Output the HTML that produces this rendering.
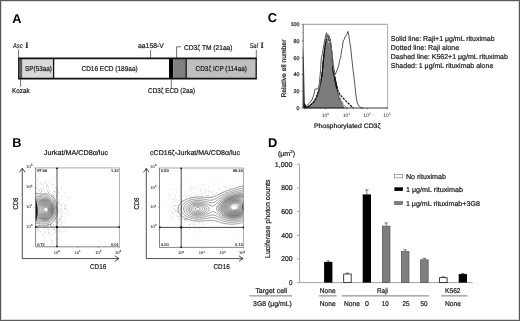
<!DOCTYPE html>
<html lang="en"><head><meta charset="utf-8"><title>Figure</title>
<style>
html,body{margin:0;padding:0;background:#fff;}
body{width:520px;height:321px;overflow:hidden;}
svg{display:block;font-family:"Liberation Sans", sans-serif;}
.b{filter:blur(0.35px);}
</style></head><body>
<svg width="520" height="321" viewBox="0 0 520 321" text-rendering="geometricPrecision">
<rect x="0" y="0" width="520" height="321" fill="#fff"/>
<g class="b">
<text x="12.3" y="22.6" font-size="12.8" font-weight="bold" fill="#000" stroke="#000" stroke-width="0" >A</text>
<text x="12.3" y="147.0" font-size="12.8" font-weight="bold" fill="#000" stroke="#000" stroke-width="0" >B</text>
<text x="267.8" y="22.4" font-size="12.8" font-weight="bold" fill="#000" stroke="#000" stroke-width="0" >C</text>
<text x="267.9" y="147.2" font-size="12.8" font-weight="bold" fill="#000" stroke="#000" stroke-width="0" >D</text>
<rect x="18.6" y="58.3" width="237.6" height="20.299999999999997" fill="#fff" stroke="none" stroke-width="0" />
<rect x="19.0" y="58.3" width="3.5" height="20.299999999999997" fill="#5e5e5e" stroke="none" stroke-width="0" />
<rect x="22.5" y="58.3" width="31" height="20.299999999999997" fill="#d9d9d9" stroke="none" stroke-width="0" />
<rect x="169" y="58.3" width="4.2" height="20.299999999999997" fill="#000" stroke="none" stroke-width="0" />
<rect x="173.2" y="58.3" width="12.3" height="20.299999999999997" fill="#808080" stroke="none" stroke-width="0" />
<rect x="186.5" y="58.3" width="69.69999999999999" height="20.299999999999997" fill="#bfbfbf" stroke="none" stroke-width="0" />
<line x1="53.6" y1="58.3" x2="53.6" y2="78.6" stroke="#111" stroke-width="1.3" />
<line x1="186.1" y1="58.3" x2="186.1" y2="78.6" stroke="#111" stroke-width="1.5" />
<line x1="18.1" y1="58.3" x2="256.84999999999997" y2="58.3" stroke="#111" stroke-width="1.7" />
<line x1="18.1" y1="78.6" x2="256.84999999999997" y2="78.6" stroke="#111" stroke-width="1.7" />
<line x1="18.6" y1="58.3" x2="18.6" y2="78.6" stroke="#111" stroke-width="1.0" />
<line x1="256.2" y1="58.3" x2="256.2" y2="78.6" stroke="#111" stroke-width="1.3" />
<line x1="18.6" y1="49.6" x2="18.6" y2="58" stroke="#333" stroke-width="0.7" />
<line x1="20.6" y1="79" x2="20.6" y2="86.8" stroke="#333" stroke-width="0.7" />
<line x1="150.6" y1="50" x2="150.6" y2="58" stroke="#333" stroke-width="0.7" />
<line x1="171.3" y1="79" x2="171.3" y2="88" stroke="#333" stroke-width="0.7" />
<polyline points="181.2,46.8 176.6,46.8 176.6,58" fill="none" stroke="#333" stroke-width="0.7"/>
<line x1="256.3" y1="50" x2="256.3" y2="58" stroke="#333" stroke-width="0.7" />
<text x="13" y="47.6" font-size="7" fill="#1c1c1c" stroke="#1c1c1c" stroke-width="0.15"><tspan font-style="italic" textLength="9.6" lengthAdjust="spacingAndGlyphs">Asc</tspan><tspan dx="2.6" font-family="'Liberation Serif', serif" font-size="8.2" font-weight="bold" font-style="normal">I</tspan></text>
<text x="249.4" y="47.6" font-size="7" fill="#1c1c1c" stroke="#1c1c1c" stroke-width="0.15"><tspan font-style="italic" textLength="8.6" lengthAdjust="spacingAndGlyphs">Sal</tspan><tspan dx="2.6" font-family="'Liberation Serif', serif" font-size="8.2" font-weight="bold" font-style="normal">I</tspan></text>
<text x="12" y="92.8" font-size="7.0" textLength="17.8" lengthAdjust="spacingAndGlyphs" fill="#1c1c1c" stroke="#1c1c1c" stroke-width="0.22" >Kozak</text>
<text x="25" y="71.3" font-size="7.0" textLength="27" lengthAdjust="spacingAndGlyphs" fill="#1c1c1c" stroke="#1c1c1c" stroke-width="0.22" >SP(53aa)</text>
<text x="81.5" y="71.3" font-size="7.0" textLength="56.2" lengthAdjust="spacingAndGlyphs" fill="#1c1c1c" stroke="#1c1c1c" stroke-width="0.22" >CD16 ECD (189aa)</text>
<text x="138" y="47.8" font-size="7.0" textLength="25.8" lengthAdjust="spacingAndGlyphs" fill="#1c1c1c" stroke="#1c1c1c" stroke-width="0.22" >aa158-V</text>
<text x="184" y="49.6" font-size="7.0" textLength="48.5" lengthAdjust="spacingAndGlyphs" fill="#1c1c1c" stroke="#1c1c1c" stroke-width="0.22" >CD3ζ TM (21aa)</text>
<text x="195.6" y="71.4" font-size="7.0" textLength="51.3" lengthAdjust="spacingAndGlyphs" fill="#1c1c1c" stroke="#1c1c1c" stroke-width="0.22" >CD3ζ ICP (114aa)</text>
<text x="148.1" y="92.8" font-size="7.0" textLength="47" lengthAdjust="spacingAndGlyphs" fill="#1c1c1c" stroke="#1c1c1c" stroke-width="0.22" >CD3ζ ECD (2aa)</text>
<clipPath id="cp1"><rect x="35.6" y="167.9" width="83.80000000000001" height="78.9"/></clipPath>
<path d="M48.3,206.7h.5M50.8,205.0h.5M46.0,224.7h.5M40.7,215.8h.5M44.4,218.0h.5M39.9,203.2h.5M48.8,233.7h.5M59.7,231.0h.5M44.1,216.7h.5M43.0,218.2h.5M52.5,184.3h.5M51.3,217.6h.5M49.2,207.2h.5M40.4,215.0h.5M48.1,218.1h.5M54.2,205.3h.5M36.9,188.5h.5M44.4,214.2h.5M32.1,200.3h.5M37.3,205.5h.5M32.6,202.0h.5M46.3,205.3h.5M37.5,180.7h.5M50.6,224.8h.5M49.6,212.8h.5M46.7,223.5h.5M26.9,234.3h.5M43.7,209.9h.5M47.9,187.1h.5M49.3,198.4h.5M35.3,194.5h.5M44.2,203.3h.5M40.0,210.6h.5M41.4,184.6h.5M57.3,213.9h.5M41.4,190.7h.5M48.0,213.3h.5M55.8,208.2h.5M43.3,205.7h.5M47.4,208.7h.5M49.2,202.9h.5M48.8,201.9h.5M37.9,188.6h.5M48.9,209.2h.5M59.8,232.7h.5M35.1,234.4h.5M55.6,226.1h.5M49.3,218.4h.5M42.8,201.1h.5M65.3,227.6h.5M54.8,208.9h.5M38.1,208.7h.5M48.9,206.0h.5M53.2,210.7h.5M46.7,204.2h.5M54.1,208.6h.5M47.7,196.0h.5M54.0,204.9h.5M60.5,238.1h.5M42.6,208.7h.5M50.0,206.6h.5M44.4,216.3h.5M49.4,218.5h.5M38.2,195.7h.5M43.4,207.0h.5M46.6,221.1h.5M55.9,213.0h.5M58.0,211.1h.5M37.1,229.0h.5M41.5,201.1h.5M53.8,210.6h.5M31.4,203.1h.5M44.4,228.2h.5M47.5,185.2h.5M59.0,201.2h.5M54.2,203.0h.5M45.5,217.9h.5M45.2,217.2h.5M46.2,227.0h.5M61.2,189.9h.5M44.7,219.0h.5M45.7,205.9h.5M51.3,201.3h.5M47.3,216.3h.5M46.6,198.1h.5M38.8,183.6h.5M48.2,205.0h.5M44.5,190.9h.5M58.2,201.5h.5M53.9,214.2h.5M48.1,213.5h.5M54.0,229.4h.5M45.4,207.1h.5M57.2,190.4h.5M48.3,200.1h.5M53.3,198.1h.5M37.3,194.4h.5M51.2,215.0h.5M34.0,201.5h.5M31.0,184.9h.5M45.7,218.3h.5M40.7,208.2h.5M49.7,214.1h.5M67.4,210.9h.5M41.2,217.5h.5M43.0,210.1h.5M50.0,225.1h.5M52.5,214.9h.5M46.8,214.5h.5M46.5,214.7h.5M54.3,191.4h.5M52.7,207.5h.5M39.5,206.4h.5M47.6,212.2h.5M48.6,192.6h.5M39.3,230.0h.5M50.5,210.9h.5M41.0,194.5h.5M56.6,188.2h.5M49.9,206.1h.5M49.1,208.5h.5M43.3,200.6h.5M47.3,210.8h.5M31.3,201.6h.5M38.7,216.5h.5M51.4,200.5h.5M30.2,209.1h.5M55.5,221.8h.5M33.5,241.7h.5M54.7,197.0h.5M41.1,203.8h.5M54.9,199.1h.5M49.4,219.4h.5M35.2,195.2h.5M58.9,203.5h.5M60.6,209.2h.5M47.7,197.4h.5M46.0,197.6h.5M46.9,203.7h.5M40.0,183.3h.5M57.6,191.5h.5M43.7,204.4h.5M47.9,211.5h.5M41.6,207.3h.5M43.0,187.4h.5M37.4,203.8h.5M59.0,219.6h.5M47.0,216.5h.5M56.5,208.6h.5M48.4,198.5h.5M42.4,217.5h.5M45.5,202.4h.5M43.5,195.0h.5M48.4,199.6h.5M45.1,227.7h.5M45.8,212.4h.5M36.6,224.1h.5M41.4,203.6h.5M62.4,221.3h.5M42.6,202.1h.5M39.3,207.6h.5M51.2,240.7h.5M60.3,219.2h.5M35.9,203.3h.5M46.5,208.5h.5M42.9,213.7h.5M33.3,224.7h.5M54.5,203.5h.5M48.1,187.8h.5M48.9,206.1h.5M41.9,209.8h.5M52.2,211.0h.5M43.7,226.1h.5M47.1,213.6h.5M38.9,219.8h.5M38.0,195.8h.5M59.7,220.4h.5M44.0,235.8h.5M50.8,219.3h.5M48.0,212.8h.5M44.6,211.5h.5M44.0,231.9h.5M53.7,198.0h.5M45.7,208.2h.5M47.0,215.4h.5M48.5,218.9h.5M58.3,204.1h.5M54.1,213.4h.5M51.6,206.1h.5M43.5,211.1h.5M36.6,207.9h.5M56.4,195.3h.5M56.5,209.3h.5M47.1,220.6h.5M52.9,197.5h.5M54.9,206.6h.5M55.4,217.9h.5M56.1,196.2h.5M44.4,211.9h.5M61.2,196.3h.5M37.7,223.8h.5M55.6,238.5h.5M52.5,234.9h.5M55.7,206.9h.5M64.3,218.9h.5M60.9,211.1h.5M38.6,210.9h.5M33.9,228.9h.5M55.2,193.1h.5M39.7,222.8h.5M48.2,209.0h.5M55.4,227.2h.5M34.3,211.9h.5M30.4,201.2h.5M50.5,213.1h.5M48.7,218.8h.5M46.2,210.0h.5M48.6,215.7h.5M41.0,203.1h.5M35.4,182.9h.5M46.9,220.9h.5M40.0,218.3h.5M34.3,211.5h.5M52.6,210.5h.5M47.8,222.6h.5M51.8,203.9h.5M39.9,200.8h.5M42.7,207.2h.5M39.8,224.5h.5M40.8,192.3h.5M50.0,224.5h.5M41.6,201.6h.5M51.3,195.8h.5M51.2,225.4h.5M65.5,208.4h.5M36.5,193.3h.5M55.8,205.1h.5M47.5,221.2h.5M48.2,224.5h.5M36.0,204.3h.5M44.4,214.7h.5M54.6,218.5h.5M47.6,201.5h.5M49.0,214.0h.5M45.8,209.2h.5M58.1,202.9h.5M48.1,203.4h.5M29.6,210.4h.5M42.4,210.0h.5M31.6,202.5h.5M20.7,204.3h.5M43.8,223.5h.5M59.6,212.3h.5M48.7,220.7h.5M38.3,224.6h.5M40.3,217.0h.5M57.9,238.0h.5M49.6,199.3h.5M48.7,219.7h.5M47.8,205.6h.5M48.6,232.8h.5M55.1,230.9h.5M53.0,185.2h.5M50.1,197.5h.5M39.4,217.9h.5M52.6,219.5h.5M42.5,218.8h.5M57.6,208.7h.5M37.5,215.3h.5M47.1,217.8h.5M48.2,208.6h.5M37.0,222.4h.5M62.9,181.4h.5M60.7,217.5h.5M44.4,196.7h.5M54.9,221.6h.5M51.5,206.7h.5M26.1,198.5h.5M50.4,214.3h.5M47.8,198.2h.5M49.0,198.2h.5M39.1,190.0h.5M46.0,209.3h.5M46.8,215.8h.5M58.4,222.4h.5M51.1,207.8h.5M48.3,222.7h.5M61.3,209.8h.5M43.6,208.4h.5M45.0,216.8h.5M32.9,222.8h.5M61.6,205.3h.5M56.5,206.6h.5M56.1,207.6h.5M54.0,210.6h.5M49.2,198.3h.5M50.1,222.5h.5M46.2,204.6h.5M46.6,215.4h.5M48.8,199.3h.5M61.2,214.1h.5M53.0,214.5h.5M47.8,204.3h.5M43.4,234.9h.5M42.9,214.2h.5M61.9,231.8h.5M52.6,221.6h.5M48.9,201.3h.5M45.4,204.8h.5M38.9,215.1h.5M47.7,210.4h.5M55.7,210.2h.5M45.0,206.0h.5M46.4,187.0h.5M46.4,206.8h.5M49.2,181.9h.5M34.8,214.2h.5M46.3,200.5h.5M41.0,200.7h.5M55.8,206.9h.5M41.7,213.0h.5M53.2,191.7h.5M61.3,187.7h.5M45.6,196.3h.5M43.2,184.1h.5M49.9,197.5h.5M48.3,229.5h.5M39.9,196.4h.5M52.2,217.7h.5M65.4,192.5h.5M46.1,213.3h.5M46.6,205.6h.5M39.4,208.9h.5M51.0,216.7h.5M37.7,231.6h.5M38.9,212.0h.5M59.2,211.2h.5M40.6,197.4h.5M57.5,216.9h.5M61.3,206.5h.5M50.5,220.0h.5M53.0,209.1h.5M64.9,231.4h.5M46.6,184.8h.5M43.3,205.9h.5M36.8,220.6h.5M48.7,205.2h.5M60.9,199.7h.5M56.5,206.3h.5M40.3,192.4h.5M41.0,211.1h.5M44.0,240.1h.5M50.8,223.9h.5M46.6,195.7h.5M50.1,198.7h.5M50.8,204.5h.5M45.8,222.2h.5M48.0,199.3h.5M50.1,201.0h.5M47.6,220.7h.5M52.6,220.4h.5M64.2,204.9h.5M53.3,195.6h.5M48.8,190.2h.5M34.0,200.9h.5M51.6,181.7h.5M31.8,219.0h.5M36.3,201.7h.5M55.6,215.6h.5M54.3,233.0h.5M47.0,224.3h.5M33.8,195.2h.5M45.1,220.5h.5M42.5,224.1h.5M53.7,200.3h.5M67.5,197.7h.5M50.1,208.2h.5M41.7,189.6h.5M38.4,228.0h.5M47.8,179.5h.5M46.8,195.8h.5M38.5,206.2h.5M49.3,206.8h.5M38.5,211.7h.5M57.8,213.0h.5M57.3,206.9h.5M57.5,223.8h.5M44.3,182.9h.5M52.7,209.6h.5M47.2,200.7h.5M45.0,211.3h.5M45.4,212.4h.5M37.3,198.2h.5M36.0,201.6h.5M55.1,219.5h.5M46.7,214.0h.5M50.1,201.1h.5M56.8,235.1h.5M33.6,238.5h.5M41.6,191.3h.5M49.8,213.4h.5M51.6,241.0h.5M45.1,219.4h.5M57.0,212.4h.5M50.1,207.0h.5M38.0,202.8h.5M40.4,206.9h.5M55.1,202.7h.5M52.2,218.9h.5M32.2,204.6h.5M59.8,204.1h.5M53.4,194.6h.5M59.7,209.0h.5M45.0,198.4h.5M45.8,207.3h.5M38.7,222.6h.5M69.9,214.2h.5M46.8,215.9h.5M61.8,214.1h.5M42.8,210.3h.5M49.7,208.0h.5M34.1,205.8h.5M45.0,219.1h.5M56.7,196.0h.5M37.7,226.4h.5M57.4,210.0h.5M51.2,200.2h.5M39.4,203.5h.5M44.0,201.1h.5M44.4,211.6h.5M47.9,200.6h.5M43.7,223.9h.5M41.3,199.8h.5M45.7,181.2h.5M39.6,200.5h.5M37.3,184.5h.5M47.9,209.1h.5M55.8,222.8h.5M35.3,217.7h.5M48.3,192.9h.5M42.8,200.1h.5M40.0,231.8h.5M55.6,213.6h.5M43.9,209.7h.5M61.0,222.8h.5M41.7,240.3h.5M51.6,225.8h.5M46.4,211.3h.5M41.9,214.0h.5M53.3,217.3h.5M47.0,201.9h.5M53.4,196.4h.5M47.9,210.3h.5M39.1,197.8h.5M47.4,208.8h.5M48.7,210.8h.5M56.4,238.9h.5M40.6,199.0h.5M48.0,208.1h.5M33.7,207.5h.5M53.8,215.1h.5M39.1,222.7h.5M32.9,203.5h.5M47.8,199.3h.5M57.7,189.1h.5M35.3,198.0h.5M39.1,216.3h.5M42.0,210.2h.5M38.7,196.9h.5M51.5,204.9h.5M41.4,210.0h.5M42.2,215.9h.5M53.3,202.2h.5M41.9,206.5h.5M52.0,186.9h.5M40.0,195.2h.5M38.0,229.8h.5M32.7,182.2h.5M64.1,205.4h.5M45.6,212.3h.5M50.4,204.9h.5M48.0,199.5h.5M49.7,208.8h.5M48.7,209.5h.5M64.5,208.6h.5M39.5,186.1h.5M35.1,207.8h.5M39.7,198.9h.5M37.0,202.8h.5M54.6,212.4h.5M55.3,217.6h.5M40.1,220.8h.5M36.5,203.4h.5M45.3,221.2h.5M60.1,224.3h.5M24.3,223.8h.5M52.8,227.0h.5M39.2,207.8h.5M57.1,207.4h.5M39.1,219.9h.5M45.9,192.5h.5M35.5,212.2h.5M40.0,203.0h.5M60.1,205.0h.5M55.3,187.8h.5M44.9,198.5h.5M40.9,209.3h.5M32.2,220.7h.5M45.0,222.0h.5M48.0,208.6h.5M47.6,207.2h.5M47.5,199.2h.5M38.8,214.6h.5M47.7,206.5h.5M48.0,217.2h.5M59.3,231.5h.5M64.2,209.2h.5M47.1,190.9h.5M41.8,198.8h.5M47.7,191.4h.5M43.1,194.6h.5M42.0,225.9h.5M47.8,212.4h.5M39.4,190.6h.5M53.5,217.8h.5M47.4,225.4h.5M50.4,205.1h.5M46.7,201.2h.5M42.1,205.4h.5M40.2,213.2h.5M46.3,217.6h.5M43.6,224.4h.5M50.3,224.8h.5M48.3,224.4h.5M36.7,226.6h.5M48.9,217.9h.5M36.9,190.5h.5M43.1,208.0h.5M45.8,213.5h.5M30.7,204.8h.5M49.1,221.0h.5M49.6,205.1h.5M47.0,198.0h.5M44.7,227.7h.5M45.1,217.9h.5M40.0,212.3h.5M46.0,221.2h.5M43.6,222.9h.5M49.1,213.9h.5M38.1,178.9h.5M50.3,201.2h.5M49.5,203.9h.5M47.1,197.3h.5M44.6,212.1h.5M53.0,224.5h.5M34.2,203.5h.5M52.2,195.4h.5M50.4,235.0h.5M50.7,204.0h.5M51.6,194.2h.5M42.7,212.6h.5M46.1,214.9h.5M53.7,200.8h.5M52.0,219.5h.5M50.1,203.5h.5M35.4,198.1h.5M52.9,211.8h.5M58.2,219.2h.5M56.9,201.7h.5M50.3,213.7h.5M35.1,208.4h.5M56.3,244.9h.5M47.0,200.7h.5M26.8,226.9h.5M51.5,208.9h.5M35.6,208.0h.5M37.3,218.6h.5M42.9,220.8h.5M59.1,225.4h.5M45.1,213.7h.5M50.6,202.1h.5M63.2,202.9h.5M61.8,216.0h.5M47.4,216.9h.5M46.2,227.1h.5M37.6,214.8h.5M42.4,222.9h.5M51.9,228.6h.5M51.7,211.7h.5M49.2,191.0h.5M56.8,194.9h.5M41.7,191.6h.5M47.8,229.5h.5M54.5,199.0h.5M53.3,225.0h.5M57.4,216.9h.5M51.7,231.0h.5M45.7,222.1h.5M51.4,208.3h.5M39.8,207.1h.5M34.4,210.7h.5M53.2,211.8h.5M47.8,203.0h.5M50.9,209.2h.5M33.9,229.7h.5M45.2,188.3h.5M43.2,212.8h.5M41.0,198.3h.5M29.1,211.9h.5M45.5,220.1h.5M55.9,208.9h.5M51.5,219.3h.5M43.2,189.7h.5M48.2,223.4h.5M54.7,202.1h.5M24.8,217.4h.5M47.2,211.9h.5M52.9,177.3h.5M54.1,200.1h.5M62.8,212.4h.5M57.9,229.0h.5M51.0,213.2h.5M50.9,212.8h.5M55.0,191.9h.5M43.7,227.5h.5M48.0,232.2h.5M56.0,210.0h.5M64.9,206.9h.5M46.9,189.4h.5M47.9,220.6h.5M50.0,243.4h.5M59.7,218.6h.5M48.0,225.4h.5M60.8,216.4h.5M40.1,197.3h.5M46.7,226.3h.5M46.6,194.2h.5M55.0,207.0h.5M57.2,213.1h.5M35.5,220.6h.5M40.5,214.8h.5M51.2,214.4h.5M42.7,200.1h.5M35.4,193.5h.5M57.1,210.4h.5M52.5,200.7h.5M52.5,193.3h.5M44.3,193.8h.5M57.0,203.5h.5M46.3,186.4h.5M57.6,192.8h.5M40.6,189.2h.5M41.0,211.9h.5M50.0,214.7h.5M42.3,234.7h.5M54.0,190.9h.5M50.5,201.1h.5M40.5,221.0h.5M48.9,206.9h.5M45.3,205.5h.5M56.1,231.0h.5M42.9,205.4h.5M44.6,195.1h.5M58.6,193.1h.5M67.3,213.8h.5M65.3,213.4h.5M48.8,192.5h.5M50.2,197.3h.5M61.3,216.3h.5M47.2,216.8h.5M40.0,201.6h.5M49.3,217.4h.5M52.1,216.7h.5M41.3,187.3h.5M34.3,205.7h.5M36.1,214.8h.5M54.0,202.4h.5M41.9,182.9h.5M47.1,206.1h.5M50.1,219.0h.5M53.6,229.4h.5M45.5,182.2h.5M52.5,242.3h.5M40.7,195.5h.5M45.2,221.6h.5M39.6,225.0h.5M57.9,221.9h.5M48.1,211.5h.5M42.0,195.1h.5M45.3,217.4h.5M46.4,200.7h.5M54.3,178.1h.5M34.7,245.0h.5M39.5,218.5h.5M45.1,232.3h.5M69.8,198.2h.5M56.4,227.9h.5M47.4,229.5h.5M54.4,229.0h.5M65.8,209.3h.5" stroke="#444" stroke-width="0.5" stroke-opacity="0.8" fill="none" clip-path="url(#cp1)"/>
<ellipse cx="45.3" cy="209.6" rx="10.5" ry="14.2" fill="#fff" fill-opacity="0.92" clip-path="url(#cp1)"/>
<ellipse cx="44.8" cy="209.6" rx="8.6" ry="11.2" fill="#dedede" clip-path="url(#cp1)"/>
<ellipse cx="46.3" cy="209.6" rx="1.6" ry="2.2" fill="#fff" clip-path="url(#cp1)"/>
<path d="M29.6,198.5 29.9,198.3 30.1,198.0 30.3,197.8 30.6,197.5 30.8,197.2 31.0,197.0 31.3,196.8 31.5,196.5 31.7,196.2 32.0,196.0 32.2,195.8 32.5,195.5 32.7,195.2 33.0,195.0 33.3,194.8 33.6,194.5 33.9,194.3 34.1,194.1 34.4,194.0 34.8,193.8 35.1,193.6 35.6,193.5 35.9,193.4 36.4,193.4 36.9,193.4 37.4,193.5 37.6,193.5 38.1,193.6 38.6,193.7 38.9,193.8 39.4,193.8 39.9,193.9 40.4,194.0 40.6,194.0 41.1,194.0 41.6,194.1 42.1,194.1 42.6,194.0 43.1,194.0 43.6,194.0 43.9,194.0 44.4,194.0 44.9,194.0 45.4,193.9 45.9,193.9 46.4,193.9 46.9,194.0 47.2,194.0 47.7,194.1 48.2,194.2 48.5,194.2 48.9,194.4 49.2,194.5 49.7,194.7 49.9,194.8 50.3,195.0 50.7,195.2 50.9,195.4 51.2,195.5 51.5,195.8 51.8,196.0 52.1,196.2 52.4,196.5 52.7,196.8 52.9,197.0 53.2,197.2 53.4,197.5 53.6,197.8 53.8,198.0 54.0,198.2 54.2,198.5 54.4,198.9 54.7,199.2 54.8,199.5 55.0,199.8 55.2,200.1 55.4,200.5 55.5,200.8 55.7,201.2 55.8,201.5 55.9,201.8 56.1,202.2 56.2,202.5 56.4,203.0 56.5,203.2 56.6,203.8 56.7,204.0 56.8,204.5 56.9,204.9 57.0,205.2 57.1,205.8 57.2,206.2 57.2,206.5 57.3,207.0 57.4,207.5 57.4,208.0 57.4,208.5 57.4,209.0 57.4,209.2 57.4,209.8 57.4,210.1 57.4,210.5 57.4,211.0 57.4,211.5 57.3,212.0 57.3,212.5 57.2,212.9 57.1,213.2 57.1,213.8 56.9,214.2 56.9,214.5 56.8,215.0 56.7,215.3 56.6,215.8 56.4,216.1 56.3,216.5 56.2,216.8 56.0,217.2 55.9,217.5 55.7,218.0 55.6,218.3 55.4,218.6 55.2,219.0 55.1,219.2 54.9,219.5 54.7,219.9 54.5,220.2 54.3,220.5 54.1,220.8 53.9,221.0 53.7,221.3 53.4,221.6 53.2,221.9 52.9,222.2 52.7,222.4 52.4,222.7 52.2,222.9 51.9,223.1 51.7,223.3 51.4,223.5 51.1,223.8 50.7,224.0 50.4,224.2 50.2,224.3 49.7,224.5 49.4,224.6 49.1,224.8 48.7,224.9 48.3,225.0 47.9,225.1 47.4,225.2 46.9,225.2 46.7,225.3 46.2,225.3 45.7,225.3 45.2,225.2 44.9,225.2 44.4,225.2 43.9,225.2 43.4,225.2 42.9,225.2 42.4,225.2 41.9,225.2 41.4,225.2 41.1,225.2 40.6,225.3 40.1,225.4 39.7,225.5 39.4,225.6 38.9,225.8 38.6,225.8 38.2,226.0 37.9,226.1 37.4,226.2 37.1,226.3 36.6,226.4 36.1,226.4 35.6,226.4 35.2,226.2 34.9,226.1 34.6,226.0 34.2,225.8 33.9,225.5 33.6,225.3 33.4,225.0 33.1,224.8 32.9,224.5 32.6,224.3 32.4,224.0 32.2,223.8 31.9,223.5 31.7,223.2 31.5,223.0 31.3,222.8 31.1,222.5 30.9,222.2 30.6,221.9 30.4,221.6 30.1,221.3 29.9,221.1 29.6,220.8 M29.6,202.0 29.9,201.7 30.1,201.3 30.4,201.0 30.6,200.8 30.8,200.5 31.0,200.2 31.2,200.0 31.4,199.7 31.6,199.5 31.9,199.2 32.1,199.0 32.4,198.7 32.6,198.5 32.9,198.2 33.1,198.0 33.4,197.8 33.7,197.5 34.0,197.2 34.4,197.0 34.6,196.9 34.9,196.8 35.4,196.5 35.6,196.5 36.1,196.3 36.6,196.2 36.9,196.2 37.4,196.2 37.9,196.2 38.4,196.2 38.9,196.2 39.3,196.2 39.6,196.3 40.1,196.3 40.6,196.3 41.1,196.3 41.4,196.2 41.9,196.2 42.4,196.2 42.9,196.2 43.4,196.1 43.9,196.1 44.4,196.1 44.9,196.0 45.4,196.0 45.9,196.0 46.4,196.0 46.9,196.0 47.4,196.1 47.9,196.2 48.2,196.3 48.7,196.4 48.9,196.5 49.4,196.7 49.7,196.9 49.9,197.0 50.3,197.3 50.7,197.5 50.9,197.7 51.2,197.9 51.4,198.1 51.7,198.3 51.9,198.5 52.2,198.8 52.4,199.1 52.7,199.4 52.9,199.7 53.2,200.0 53.3,200.2 53.5,200.5 53.7,200.8 53.9,201.2 54.1,201.5 54.2,201.8 54.4,202.2 54.6,202.5 54.7,202.8 54.9,203.2 54.9,203.5 55.1,204.0 55.2,204.2 55.3,204.7 55.4,205.1 55.5,205.5 55.6,206.0 55.7,206.3 55.8,206.8 55.8,207.2 55.9,207.8 55.9,208.2 55.9,208.5 56.0,209.0 56.0,209.5 56.0,210.0 56.0,210.5 55.9,210.9 55.9,211.2 55.9,211.8 55.8,212.2 55.7,212.8 55.7,213.0 55.6,213.5 55.5,214.0 55.4,214.2 55.3,214.8 55.2,215.0 55.0,215.5 54.9,215.8 54.7,216.2 54.6,216.5 54.4,217.0 54.3,217.2 54.2,217.5 53.9,218.0 53.8,218.2 53.6,218.5 53.4,218.8 53.2,219.2 52.9,219.5 52.7,219.8 52.5,220.0 52.3,220.2 52.1,220.5 51.8,220.8 51.6,221.0 51.3,221.2 51.0,221.5 50.7,221.7 50.4,221.9 50.2,222.1 49.8,222.2 49.4,222.5 49.2,222.6 48.7,222.8 48.4,222.9 47.9,223.0 47.7,223.1 47.2,223.1 46.7,223.2 46.2,223.2 45.7,223.2 45.2,223.2 44.6,223.2 44.1,223.1 43.6,223.1 43.1,223.1 42.6,223.0 42.1,223.0 41.6,223.0 41.1,223.0 40.6,223.0 40.1,223.0 39.6,223.1 39.1,223.1 38.6,223.2 38.1,223.2 37.9,223.3 37.4,223.3 36.9,223.3 36.4,223.3 36.1,223.2 35.6,223.1 35.2,223.0 34.9,222.8 34.6,222.7 34.3,222.5 34.0,222.2 33.6,222.0 33.4,221.8 33.1,221.5 32.9,221.3 32.6,221.0 32.4,220.8 32.2,220.5 31.9,220.2 31.7,220.0 31.5,219.8 31.3,219.5 31.1,219.2 30.9,218.9 30.6,218.6 30.4,218.3 30.1,218.0 29.9,217.8 29.8,217.5 M29.6,205.6 29.8,205.2 29.9,205.0 30.1,204.5 30.2,204.2 30.4,204.0 30.6,203.6 30.8,203.2 31.0,203.0 31.1,202.8 31.4,202.5 31.6,202.1 31.9,201.8 32.1,201.5 32.3,201.2 32.5,201.0 32.7,200.8 32.9,200.5 33.2,200.2 33.5,200.0 33.7,199.8 34.1,199.5 34.4,199.3 34.6,199.1 34.9,199.0 35.3,198.8 35.6,198.6 35.9,198.5 36.4,198.3 36.8,198.2 37.1,198.2 37.6,198.1 38.1,198.1 38.6,198.1 39.1,198.0 39.6,198.0 40.0,198.0 40.4,198.0 40.9,197.9 41.4,197.9 41.9,197.8 42.4,197.8 42.9,197.8 43.1,197.7 43.6,197.7 44.1,197.6 44.6,197.6 45.2,197.6 45.7,197.6 46.2,197.6 46.7,197.6 47.2,197.6 47.7,197.7 47.9,197.8 48.4,197.9 48.7,198.0 49.1,198.2 49.4,198.4 49.7,198.5 50.0,198.8 50.3,199.0 50.7,199.2 50.9,199.5 51.2,199.7 51.4,200.0 51.7,200.2 51.9,200.5 52.1,200.8 52.3,201.0 52.5,201.2 52.7,201.6 52.9,202.0 53.1,202.2 53.2,202.5 53.4,202.9 53.6,203.2 53.7,203.5 53.9,204.0 54.0,204.2 54.1,204.8 54.2,205.0 54.4,205.5 54.4,205.8 54.5,206.2 54.6,206.8 54.7,207.1 54.7,207.5 54.8,208.0 54.8,208.5 54.9,209.0 54.9,209.5 54.9,210.0 54.8,210.5 54.8,211.0 54.8,211.5 54.7,212.0 54.7,212.2 54.6,212.8 54.5,213.2 54.4,213.5 54.3,214.0 54.2,214.3 54.0,214.8 53.9,215.1 53.8,215.5 53.7,215.8 53.4,216.2 53.3,216.5 53.2,216.8 52.9,217.2 52.8,217.5 52.6,217.8 52.4,218.0 52.2,218.4 51.9,218.7 51.7,219.0 51.4,219.2 51.2,219.5 50.9,219.7 50.7,219.9 50.4,220.1 50.2,220.3 49.9,220.5 49.5,220.8 49.2,220.9 48.9,221.1 48.4,221.2 48.2,221.3 47.7,221.5 47.4,221.5 46.9,221.6 46.4,221.6 45.9,221.6 45.4,221.6 44.9,221.6 44.4,221.6 43.9,221.5 43.4,221.5 43.1,221.5 42.6,221.4 42.1,221.4 41.6,221.4 41.1,221.3 40.6,221.3 40.1,221.3 39.6,221.3 39.1,221.3 38.6,221.3 38.1,221.3 37.6,221.3 37.3,221.2 36.9,221.2 36.4,221.1 35.9,221.0 35.6,220.9 35.3,220.8 34.9,220.5 34.6,220.4 34.4,220.2 34.1,220.0 33.8,219.8 33.5,219.5 33.3,219.2 33.0,219.0 32.8,218.8 32.6,218.5 32.4,218.2 32.1,217.9 31.9,217.6 31.6,217.2 31.4,217.0 31.3,216.8 31.1,216.5 30.9,216.1 30.6,215.8 30.5,215.5 30.4,215.2 30.1,214.8 30.0,214.5 29.9,214.2 29.6,213.8 M42.7,199.0 43.1,199.0 43.6,198.9 44.1,198.9 44.6,198.8 45.2,198.8 45.7,198.8 46.2,198.8 46.7,198.8 47.2,198.8 47.7,198.9 47.9,199.0 48.4,199.2 48.7,199.3 49.1,199.5 49.4,199.7 49.7,199.9 49.9,200.0 50.2,200.2 50.5,200.5 50.7,200.8 51.0,201.0 51.2,201.2 51.4,201.5 51.7,201.8 51.9,202.2 52.1,202.5 52.3,202.8 52.4,203.0 52.7,203.5 52.8,203.8 52.9,204.1 53.1,204.5 53.2,204.8 53.4,205.2 53.4,205.5 53.6,206.0 53.7,206.4 53.7,206.8 53.8,207.2 53.9,207.8 53.9,208.0 54.0,208.5 54.0,209.0 54.0,209.5 54.0,210.0 54.0,210.5 54.0,211.0 53.9,211.2 53.9,211.8 53.8,212.2 53.7,212.8 53.6,213.0 53.5,213.5 53.4,213.8 53.3,214.2 53.2,214.5 53.0,215.0 52.9,215.2 52.7,215.7 52.5,216.0 52.4,216.2 52.2,216.6 51.9,217.0 51.8,217.2 51.6,217.5 51.4,217.8 51.2,218.0 50.9,218.3 50.7,218.5 50.4,218.8 50.1,219.0 49.8,219.2 49.4,219.5 49.2,219.7 48.9,219.8 48.5,220.0 48.2,220.1 47.7,220.2 47.4,220.3 46.9,220.4 46.4,220.4 45.9,220.4 45.4,220.4 44.9,220.4 44.4,220.4 43.9,220.3 43.4,220.3 43.1,220.2 42.6,220.2 42.1,220.1 41.6,220.1 41.1,220.0 40.7,220.0 40.4,220.0 39.9,219.9 39.4,219.9 38.9,219.9 38.4,219.8 37.9,219.8 37.6,219.8 37.1,219.7 36.6,219.6 36.4,219.5 35.9,219.3 35.6,219.2 35.2,219.0 34.9,218.8 34.6,218.6 34.4,218.4 34.1,218.2 33.9,217.9 33.6,217.7 33.4,217.4 33.1,217.1 32.9,216.8 32.6,216.5 32.5,216.2 32.3,216.0 32.1,215.7 31.9,215.3 31.7,215.0 31.6,214.8 31.4,214.3 31.2,214.0 31.1,213.7 30.9,213.2 30.8,213.0 30.7,212.5 30.6,212.2 30.5,211.8 30.4,211.2 30.3,211.0 30.3,210.5 30.3,210.0 30.2,209.5 30.3,209.0 30.3,208.5 30.4,208.2 30.4,207.7 30.5,207.2 30.6,207.0 30.7,206.5 30.9,206.2 31.0,205.8 31.1,205.5 31.4,205.0 31.5,204.8 31.6,204.5 31.9,204.0 32.0,203.8 32.2,203.5 32.4,203.2 32.6,202.9 32.9,202.6 33.1,202.3 33.3,202.0 33.6,201.8 33.8,201.5 34.1,201.2 34.4,201.0 34.6,200.8 34.9,200.6 35.1,200.5 35.6,200.2 35.9,200.1 36.1,200.0 36.6,199.8 36.9,199.8 37.4,199.7 37.9,199.6 38.4,199.5 38.6,199.5 39.1,199.4 39.6,199.4 40.1,199.3 40.6,199.3 40.9,199.2 41.4,199.2 41.9,199.1 42.4,199.0 42.7,199.0 M43.0,200.0 43.4,200.0 43.9,199.9 44.4,199.8 44.9,199.8 45.4,199.8 45.9,199.8 46.4,199.8 46.9,199.8 47.4,199.9 47.8,200.0 48.2,200.1 48.5,200.2 48.9,200.5 49.2,200.6 49.4,200.8 49.7,201.0 50.0,201.2 50.3,201.5 50.5,201.8 50.7,202.0 50.9,202.2 51.2,202.5 51.4,202.9 51.6,203.2 51.8,203.5 51.9,203.8 52.2,204.2 52.3,204.5 52.4,204.8 52.6,205.2 52.7,205.5 52.8,206.0 52.9,206.4 53.0,206.8 53.1,207.2 53.2,207.8 53.2,208.0 53.3,208.5 53.3,209.0 53.3,209.5 53.3,210.0 53.3,210.5 53.2,211.0 53.2,211.4 53.1,211.8 53.0,212.2 52.9,212.8 52.9,213.0 52.7,213.5 52.6,213.8 52.5,214.2 52.4,214.5 52.2,214.9 52.0,215.2 51.9,215.5 51.7,215.9 51.5,216.2 51.3,216.5 51.1,216.8 50.9,217.0 50.7,217.3 50.4,217.5 50.2,217.8 49.9,218.0 49.6,218.2 49.3,218.5 48.9,218.7 48.7,218.9 48.3,219.0 47.9,219.2 47.6,219.2 47.2,219.4 46.7,219.4 46.2,219.4 45.7,219.4 45.2,219.4 44.6,219.4 44.1,219.3 43.6,219.3 43.4,219.2 42.9,219.2 42.4,219.1 41.9,219.1 41.5,219.0 41.1,219.0 40.6,218.9 40.1,218.8 39.6,218.8 39.4,218.7 38.9,218.7 38.4,218.6 37.9,218.5 37.6,218.5 37.1,218.4 36.7,218.2 36.4,218.1 36.1,218.0 35.6,217.8 35.4,217.6 35.1,217.4 34.9,217.2 34.6,217.0 34.3,216.8 34.1,216.5 33.9,216.2 33.6,216.0 33.4,215.6 33.1,215.2 33.0,215.0 32.8,214.8 32.6,214.4 32.4,214.0 32.3,213.8 32.1,213.3 32.0,213.0 31.9,212.6 31.8,212.2 31.6,211.8 31.6,211.5 31.5,211.0 31.4,210.5 31.4,210.0 31.4,209.5 31.4,209.0 31.5,208.5 31.5,208.0 31.6,207.7 31.7,207.2 31.9,206.8 31.9,206.5 32.1,206.0 32.2,205.8 32.4,205.4 32.6,205.0 32.7,204.8 32.9,204.5 33.1,204.1 33.4,203.8 33.5,203.5 33.7,203.2 34.0,203.0 34.2,202.7 34.4,202.5 34.7,202.2 35.1,202.0 35.4,201.8 35.6,201.6 35.9,201.5 36.4,201.3 36.6,201.2 37.1,201.0 37.4,200.9 37.9,200.8 38.2,200.8 38.6,200.7 39.1,200.6 39.6,200.5 39.9,200.5 40.4,200.4 40.9,200.3 41.3,200.2 41.6,200.2 42.1,200.1 42.6,200.0 43.0,200.0 M44.4,200.8 44.9,200.7 45.4,200.7 45.9,200.7 46.4,200.7 46.9,200.7 47.2,200.8 47.7,200.9 48.0,201.0 48.4,201.2 48.7,201.3 49.0,201.5 49.3,201.8 49.6,202.0 49.9,202.2 50.2,202.5 50.4,202.8 50.6,203.0 50.8,203.2 50.9,203.5 51.2,203.9 51.4,204.2 51.5,204.5 51.7,204.8 51.9,205.2 52.0,205.5 52.1,206.0 52.2,206.2 52.3,206.8 52.4,207.2 52.5,207.5 52.6,208.0 52.6,208.5 52.6,209.0 52.7,209.5 52.7,210.0 52.6,210.5 52.6,211.0 52.5,211.5 52.4,212.0 52.4,212.2 52.3,212.8 52.2,213.0 52.0,213.5 51.9,213.8 51.7,214.2 51.6,214.5 51.4,214.9 51.2,215.2 51.1,215.5 50.9,215.8 50.7,216.1 50.4,216.4 50.2,216.7 49.9,217.0 49.7,217.2 49.4,217.4 49.2,217.6 48.9,217.8 48.5,218.0 48.2,218.1 47.9,218.3 47.4,218.4 46.9,218.5 46.7,218.5 46.2,218.5 45.7,218.5 45.2,218.5 44.9,218.5 44.4,218.5 43.9,218.4 43.4,218.3 42.9,218.3 42.6,218.2 42.1,218.2 41.6,218.1 41.2,218.0 40.9,217.9 40.4,217.9 39.9,217.8 39.6,217.7 39.1,217.6 38.6,217.5 38.4,217.5 37.9,217.4 37.4,217.2 37.1,217.2 36.7,217.0 36.4,216.9 36.1,216.7 35.8,216.5 35.4,216.2 35.1,216.0 34.9,215.8 34.6,215.5 34.4,215.2 34.2,215.0 34.0,214.8 33.8,214.5 33.6,214.1 33.4,213.8 33.3,213.5 33.1,213.1 33.0,212.8 32.9,212.4 32.7,212.0 32.6,211.5 32.6,211.2 32.5,210.8 32.4,210.2 32.4,209.8 32.4,209.2 32.5,208.8 32.5,208.2 32.6,207.8 32.7,207.5 32.8,207.0 32.9,206.8 33.1,206.2 33.2,206.0 33.4,205.7 33.6,205.2 33.7,205.0 33.9,204.8 34.1,204.4 34.4,204.1 34.6,203.8 34.9,203.6 35.1,203.3 35.4,203.1 35.6,202.9 35.9,202.8 36.4,202.5 36.6,202.4 36.9,202.2 37.4,202.1 37.6,202.0 38.1,201.9 38.6,201.8 38.9,201.7 39.4,201.6 39.8,201.5 40.1,201.4 40.6,201.3 41.1,201.2 41.4,201.2 41.9,201.1 42.4,201.0 42.6,201.0 43.1,200.9 43.6,200.8 44.1,200.8 44.4,200.8" fill="none" stroke="#222" stroke-width="0.45" clip-path="url(#cp1)"/>
<path d="M45.6,201.5 45.9,201.5 46.4,201.5 46.7,201.5 47.2,201.6 47.7,201.7 47.9,201.8 48.3,202.0 48.7,202.2 48.9,202.4 49.2,202.6 49.4,202.8 49.7,203.0 49.9,203.3 50.2,203.6 50.4,203.9 50.6,204.2 50.8,204.5 50.9,204.8 51.2,205.2 51.3,205.5 51.4,205.9 51.6,206.2 51.7,206.6 51.8,207.0 51.9,207.5 51.9,207.8 52.0,208.2 52.0,208.8 52.1,209.2 52.1,209.8 52.1,210.2 52.0,210.8 52.0,211.2 51.9,211.5 51.8,212.0 51.7,212.5 51.6,212.8 51.5,213.2 51.4,213.5 51.2,214.0 51.0,214.2 50.9,214.5 50.7,214.9 50.4,215.2 50.3,215.5 50.1,215.8 49.8,216.0 49.6,216.2 49.3,216.5 49.0,216.8 48.7,217.0 48.4,217.1 48.2,217.3 47.7,217.5 47.4,217.6 46.9,217.7 46.4,217.7 45.9,217.7 45.4,217.7 44.9,217.7 44.4,217.6 43.9,217.6 43.5,217.5 43.1,217.5 42.6,217.4 42.1,217.3 41.9,217.2 41.4,217.1 40.9,217.0 40.6,217.0 40.1,216.9 39.6,216.8 39.4,216.7 38.9,216.6 38.6,216.5 38.1,216.4 37.8,216.2 37.4,216.1 37.1,216.0 36.6,215.8 36.4,215.6 36.1,215.5 35.8,215.2 35.5,215.0 35.3,214.8 35.1,214.5 34.9,214.2 34.6,213.9 34.4,213.5 34.2,213.2 34.1,213.0 33.9,212.5 33.8,212.2 33.6,211.8 33.6,211.5 33.5,211.0 33.4,210.5 33.4,210.1 33.3,209.8 33.4,209.2 33.4,209.0 33.4,208.5 33.5,208.0 33.6,207.6 33.7,207.2 33.9,206.9 34.0,206.5 34.1,206.2 34.4,205.8 34.6,205.5 34.7,205.2 34.9,205.0 35.1,204.8 35.4,204.5 35.7,204.2 36.0,204.0 36.3,203.8 36.6,203.6 36.9,203.4 37.3,203.2 37.6,203.1 37.9,203.0 38.4,202.8 38.7,202.8 39.1,202.6 39.6,202.5 39.9,202.4 40.4,202.3 40.7,202.2 41.1,202.1 41.6,202.0 41.9,202.0 42.4,201.9 42.9,201.8 43.2,201.8 43.6,201.7 44.1,201.6 44.6,201.6 45.2,201.5 45.6,201.5 M43.6,202.5 43.9,202.4 44.4,202.4 44.9,202.3 45.4,202.3 45.9,202.3 46.4,202.3 46.9,202.3 47.4,202.4 47.7,202.5 48.2,202.8 48.4,202.9 48.7,203.1 48.9,203.3 49.2,203.5 49.4,203.8 49.7,204.0 49.9,204.3 50.2,204.7 50.4,205.0 50.5,205.2 50.7,205.6 50.8,206.0 50.9,206.2 51.1,206.8 51.2,207.0 51.3,207.5 51.4,208.0 51.4,208.2 51.5,208.8 51.5,209.2 51.5,209.8 51.5,210.2 51.5,210.8 51.4,211.0 51.3,211.5 51.2,212.0 51.2,212.3 51.0,212.8 50.9,213.0 50.7,213.5 50.6,213.8 50.4,214.1 50.2,214.5 50.0,214.8 49.8,215.0 49.6,215.2 49.4,215.5 49.1,215.8 48.8,216.0 48.5,216.2 48.2,216.4 47.9,216.6 47.4,216.8 47.2,216.8 46.7,216.9 46.2,216.9 45.7,216.9 45.2,216.9 44.6,216.8 44.1,216.8 43.9,216.8 43.4,216.7 42.9,216.6 42.5,216.5 42.1,216.4 41.6,216.3 41.4,216.2 40.9,216.1 40.4,216.0 40.1,215.9 39.6,215.8 39.4,215.7 38.9,215.6 38.6,215.5 38.1,215.3 37.9,215.2 37.4,215.0 37.1,214.8 36.9,214.7 36.6,214.5 36.3,214.2 36.0,214.0 35.8,213.8 35.6,213.5 35.4,213.2 35.1,212.8 34.9,212.5 34.8,212.2 34.6,211.7 34.5,211.5 34.4,211.0 34.4,210.7 34.3,210.2 34.3,209.8 34.3,209.2 34.3,208.8 34.4,208.5 34.5,208.0 34.6,207.6 34.7,207.2 34.9,207.0 35.1,206.5 35.3,206.2 35.4,206.0 35.6,205.8 35.9,205.5 36.1,205.2 36.4,205.0 36.7,204.8 37.1,204.5 37.4,204.3 37.6,204.2 38.1,204.0 38.4,203.9 38.7,203.8 39.1,203.6 39.5,203.5 39.9,203.4 40.3,203.2 40.6,203.2 41.1,203.0 41.4,203.0 41.9,202.8 42.3,202.8 42.6,202.7 43.1,202.6 43.6,202.5 M43.8,203.2 44.1,203.2 44.6,203.1 45.2,203.1 45.7,203.0 46.2,203.0 46.7,203.1 47.2,203.1 47.5,203.2 47.9,203.4 48.2,203.6 48.4,203.8 48.7,204.0 49.0,204.2 49.2,204.5 49.4,204.8 49.7,205.0 49.9,205.4 50.1,205.8 50.2,206.0 50.4,206.5 50.5,206.8 50.7,207.2 50.7,207.5 50.8,208.0 50.9,208.5 50.9,208.8 51.0,209.2 51.0,209.8 51.0,210.2 50.9,210.6 50.9,211.0 50.8,211.5 50.7,211.9 50.6,212.2 50.4,212.7 50.3,213.0 50.2,213.3 49.9,213.8 49.8,214.0 49.6,214.2 49.4,214.5 49.2,214.8 48.9,215.0 48.7,215.3 48.3,215.5 47.9,215.8 47.7,215.9 47.3,216.0 46.9,216.1 46.4,216.2 45.9,216.2 45.4,216.1 44.9,216.1 44.4,216.0 44.1,216.0 43.6,215.9 43.1,215.8 42.8,215.8 42.4,215.7 41.9,215.5 41.6,215.5 41.1,215.3 40.9,215.2 40.4,215.1 40.1,215.0 39.6,214.8 39.4,214.7 38.9,214.5 38.6,214.4 38.3,214.2 37.9,214.0 37.6,213.9 37.4,213.7 37.1,213.5 36.8,213.2 36.5,213.0 36.3,212.8 36.1,212.5 35.9,212.0 35.7,211.8 35.6,211.5 35.5,211.0 35.4,210.6 35.3,210.2 35.3,209.8 35.3,209.2 35.4,208.8 35.4,208.5 35.6,208.0 35.7,207.8 35.9,207.3 36.0,207.0 36.2,206.8 36.4,206.5 36.6,206.2 36.9,206.0 37.1,205.8 37.5,205.5 37.9,205.2 38.1,205.1 38.4,205.0 38.8,204.8 39.1,204.6 39.4,204.5 39.9,204.3 40.1,204.2 40.6,204.1 40.9,204.0 41.4,203.8 41.7,203.8 42.1,203.6 42.6,203.5 42.9,203.4 43.4,203.3 43.8,203.2 M44.1,204.0 44.4,203.9 44.9,203.9 45.4,203.8 45.9,203.8 46.4,203.8 46.9,203.9 47.4,204.0 47.7,204.1 47.9,204.3 48.3,204.5 48.6,204.8 48.8,205.0 49.0,205.2 49.2,205.5 49.4,205.8 49.7,206.2 49.8,206.5 49.9,206.8 50.1,207.2 50.2,207.6 50.3,208.0 50.4,208.5 50.4,209.0 50.4,209.2 50.4,209.8 50.4,210.0 50.4,210.5 50.3,211.0 50.2,211.5 50.1,211.8 50.0,212.2 49.9,212.5 49.7,213.0 49.5,213.2 49.4,213.5 49.2,213.8 48.9,214.1 48.7,214.4 48.4,214.6 48.2,214.8 47.8,215.0 47.4,215.2 47.2,215.3 46.7,215.4 46.2,215.4 45.7,215.4 45.2,215.3 44.6,215.3 44.3,215.2 43.9,215.2 43.4,215.1 43.1,215.0 42.6,214.9 42.2,214.8 41.9,214.7 41.4,214.5 41.1,214.4 40.8,214.2 40.4,214.1 40.1,214.0 39.6,213.8 39.4,213.6 39.1,213.5 38.7,213.2 38.4,213.0 38.1,212.9 37.9,212.7 37.6,212.4 37.4,212.2 37.1,211.8 36.9,211.5 36.8,211.2 36.6,210.8 36.5,210.5 36.5,210.0 36.5,209.5 36.5,209.0 36.6,208.5 36.7,208.2 36.9,207.9 37.1,207.5 37.3,207.2 37.5,207.0 37.7,206.8 38.0,206.5 38.3,206.2 38.6,206.0 38.9,205.9 39.1,205.7 39.6,205.5 39.9,205.4 40.1,205.2 40.6,205.0 40.9,204.9 41.3,204.8 41.6,204.6 42.1,204.5 42.4,204.4 42.9,204.3 43.1,204.2 43.6,204.1 44.1,204.0 M44.4,204.8 44.9,204.7 45.4,204.6 45.9,204.6 46.4,204.6 46.9,204.7 47.2,204.8 47.7,205.0 47.9,205.1 48.2,205.3 48.4,205.6 48.7,205.9 48.9,206.2 49.1,206.5 49.2,206.8 49.4,207.2 49.5,207.5 49.7,208.0 49.7,208.2 49.8,208.8 49.9,209.2 49.9,209.8 49.8,210.2 49.8,210.8 49.7,211.2 49.6,211.5 49.4,212.0 49.3,212.2 49.2,212.6 48.9,213.0 48.7,213.2 48.5,213.5 48.3,213.8 48.0,214.0 47.7,214.2 47.4,214.4 47.0,214.5 46.7,214.6 46.2,214.6 45.7,214.6 45.2,214.5 44.8,214.5 44.4,214.4 43.9,214.3 43.5,214.2 43.1,214.2 42.7,214.0 42.4,213.9 42.0,213.8 41.6,213.6 41.4,213.5 40.9,213.3 40.6,213.1 40.4,213.0 40.0,212.8 39.6,212.5 39.4,212.3 39.1,212.1 38.9,211.9 38.6,211.6 38.4,211.2 38.2,211.0 38.1,210.8 38.0,210.2 37.9,209.8 37.9,209.2 38.0,208.8 38.1,208.5 38.4,208.0 38.6,207.8 38.8,207.5 39.0,207.2 39.3,207.0 39.6,206.8 39.9,206.6 40.1,206.4 40.4,206.2 40.8,206.0 41.1,205.8 41.4,205.7 41.9,205.5 42.1,205.4 42.5,205.2 42.9,205.1 43.3,205.0 43.6,204.9 44.1,204.8 44.4,204.8 M45.3,205.5 45.7,205.5 46.2,205.4 46.7,205.5 46.9,205.5 47.4,205.7 47.7,205.9 47.9,206.1 48.2,206.4 48.4,206.7 48.6,207.0 48.7,207.2 48.9,207.6 49.0,208.0 49.2,208.5 49.2,208.8 49.2,209.2 49.3,209.8 49.2,210.2 49.2,210.6 49.1,211.0 48.9,211.5 48.8,211.7 48.7,212.1 48.4,212.5 48.2,212.8 48.0,213.0 47.7,213.2 47.4,213.5 47.2,213.6 46.7,213.7 46.4,213.8 45.9,213.8 45.7,213.7 45.2,213.7 44.6,213.6 44.1,213.5 43.9,213.4 43.4,213.3 43.1,213.2 42.7,213.0 42.4,212.9 42.1,212.7 41.7,212.5 41.4,212.3 41.1,212.1 40.9,211.9 40.6,211.7 40.4,211.4 40.1,211.1 39.9,210.8 39.8,210.5 39.6,210.1 39.6,209.8 39.6,209.2 39.7,209.0 39.9,208.5 40.0,208.2 40.2,208.0 40.4,207.8 40.7,207.5 40.9,207.2 41.3,207.0 41.6,206.8 41.9,206.6 42.1,206.5 42.6,206.2 42.9,206.1 43.2,206.0 43.6,205.8 44.0,205.8 44.4,205.6 44.9,205.5 45.3,205.5 M45.2,206.5 45.7,206.4 46.2,206.4 46.7,206.5 46.9,206.5 47.3,206.8 47.6,207.0 47.8,207.2 48.0,207.5 48.2,207.8 48.4,208.2 48.4,208.5 48.5,209.0 48.6,209.5 48.5,210.0 48.5,210.5 48.4,210.8 48.2,211.2 48.1,211.5 47.9,211.8 47.7,212.1 47.4,212.4 47.2,212.5 46.7,212.7 46.4,212.8 45.9,212.8 45.6,212.8 45.2,212.7 44.6,212.6 44.3,212.5 43.9,212.4 43.6,212.2 43.1,212.0 42.9,211.8 42.6,211.7 42.4,211.5 42.1,211.2 41.9,211.0 41.6,210.6 41.5,210.2 41.4,209.8 41.4,209.5 41.4,209.2 41.6,208.8 41.7,208.5 41.9,208.2 42.1,208.0 42.4,207.7 42.7,207.5 43.1,207.2 43.4,207.1 43.6,207.0 44.1,206.8 44.4,206.7 44.9,206.6 45.2,206.5 M45.9,207.5 46.2,207.5 46.5,207.5 46.9,207.7 47.2,207.9 47.4,208.2 47.6,208.5 47.7,208.8 47.8,209.2 47.8,209.8 47.7,210.2 47.7,210.5 47.4,211.0 47.2,211.2 47.0,211.5 46.7,211.7 46.2,211.7 45.7,211.7 45.2,211.6 44.9,211.5 44.4,211.3 44.1,211.1 43.9,211.0 43.6,210.7 43.4,210.4 43.2,210.0 43.1,209.8 43.1,209.4 43.3,209.0 43.4,208.7 43.6,208.5 43.9,208.2 44.2,208.0 44.6,207.8 44.9,207.7 45.4,207.6 45.9,207.5" fill="none" stroke="#3c3c3c" stroke-width="0.38" clip-path="url(#cp1)"/>
<path d="M35.6,196.5 C36.6,203 37.9,207 37.7,212 C37.5,217 36.4,220 35.6,223 Z" fill="#111"/>
<line x1="35.6" y1="167.9" x2="119.4" y2="167.9" stroke="#8a8a8a" stroke-width="0.7" />
<line x1="119.4" y1="167.9" x2="119.4" y2="246.8" stroke="#8a8a8a" stroke-width="0.7" />
<line x1="35.6" y1="167.9" x2="35.6" y2="246.8" stroke="#666" stroke-width="0.8" />
<line x1="35.6" y1="246.8" x2="119.4" y2="246.8" stroke="#666" stroke-width="0.8" />
<line x1="57" y1="167.9" x2="57" y2="246.8" stroke="#4a4a4a" stroke-width="1.0" />
<line x1="35.6" y1="227.1" x2="119.4" y2="227.1" stroke="#4a4a4a" stroke-width="1.0" />
<rect x="56" y="226.1" width="2" height="2" fill="#000" stroke="none" stroke-width="0" />
<rect x="56.2" y="167.6" width="1.6" height="1.4" fill="#111" stroke="none" stroke-width="0" />
<rect x="56.2" y="245.8" width="1.6" height="1.4" fill="#111" stroke="none" stroke-width="0" />
<rect x="35.300000000000004" y="226.29999999999998" width="1.4" height="1.6" fill="#111" stroke="none" stroke-width="0" />
<rect x="118.4" y="226.29999999999998" width="1.4" height="1.6" fill="#111" stroke="none" stroke-width="0" />
<text x="53.8" y="253.70000000000002" font-size="4.0" fill="#333" stroke="#333" stroke-width="0.1">10<tspan dy="-1.8" font-size="3.0">0</tspan></text>
<text x="74.6" y="253.70000000000002" font-size="4.0" fill="#333" stroke="#333" stroke-width="0.1">10<tspan dy="-1.8" font-size="3.0">1</tspan></text>
<text x="95.39999999999999" y="253.70000000000002" font-size="4.0" fill="#333" stroke="#333" stroke-width="0.1">10<tspan dy="-1.8" font-size="3.0">2</tspan></text>
<text x="115.0" y="253.70000000000002" font-size="4.0" fill="#333" stroke="#333" stroke-width="0.1">10<tspan dy="-1.8" font-size="3.0">3</tspan></text>
<text x="26.3" y="227.79999999999998" font-size="4.0" fill="#333" stroke="#333" stroke-width="0.1">10<tspan dy="-1.8" font-size="3.0">0</tspan></text>
<text x="26.3" y="208.06666666666666" font-size="4.0" fill="#333" stroke="#333" stroke-width="0.1">10<tspan dy="-1.8" font-size="3.0">1</tspan></text>
<line x1="34.4" y1="207.36666666666667" x2="35.6" y2="207.36666666666667" stroke="#666" stroke-width="0.5" />
<text x="26.3" y="188.33333333333331" font-size="4.0" fill="#333" stroke="#333" stroke-width="0.1">10<tspan dy="-1.8" font-size="3.0">2</tspan></text>
<line x1="34.4" y1="187.63333333333333" x2="35.6" y2="187.63333333333333" stroke="#666" stroke-width="0.5" />
<text x="26.3" y="168.0" font-size="4.0" fill="#333" stroke="#333" stroke-width="0.1">10<tspan dy="-1.8" font-size="3.0">3</tspan></text>
<line x1="34.4" y1="167.9" x2="35.6" y2="167.9" stroke="#666" stroke-width="0.5" />
<line x1="77.8" y1="246.8" x2="77.8" y2="248.0" stroke="#666" stroke-width="0.5" />
<line x1="98.6" y1="246.8" x2="98.6" y2="248.0" stroke="#666" stroke-width="0.5" />
<line x1="119.4" y1="246.8" x2="119.4" y2="248.0" stroke="#666" stroke-width="0.5" />
<text x="37.2" y="171.5" font-size="3.9" fill="#111" stroke="#111" stroke-width="0.12">97.94</text>
<text x="118.60000000000001" y="171.5" font-size="3.9" fill="#111" stroke="#111" stroke-width="0.12" text-anchor="end">1.32</text>
<text x="37.2" y="245.8" font-size="3.9" fill="#111" stroke="#111" stroke-width="0.12">0.72</text>
<text x="118.60000000000001" y="245.8" font-size="3.9" fill="#111" stroke="#111" stroke-width="0.12" text-anchor="end">0.01</text>
<polyline points="22.3,168.5 22.3,258.6 118.60000000000001,258.6" fill="none" stroke="#222" stroke-width="0.8"/>
<polyline points="19.5,172.3 22.3,168.20000000000002 25.1,172.3" fill="none" stroke="#222" stroke-width="0.8"/>
<polyline points="114.80000000000001,255.8 119.0,258.6 114.80000000000001,261.40000000000003" fill="none" stroke="#222" stroke-width="0.8"/>
<text x="43.8" y="155.4" font-size="7.0" textLength="64.3" lengthAdjust="spacingAndGlyphs" fill="#1c1c1c" stroke="#1c1c1c" stroke-width="0.22" >Jurkat/MA/CD8α/luc</text>
<text x="17.6" y="209.6" font-size="7.0" textLength="12" lengthAdjust="spacingAndGlyphs" transform="rotate(-90 17.6 209.6)" fill="#1c1c1c" stroke="#1c1c1c" stroke-width="0.22" >CD8</text>
<text x="90" y="269.3" font-size="7.0" textLength="16.2" lengthAdjust="spacingAndGlyphs" fill="#1c1c1c" stroke="#1c1c1c" stroke-width="0.22" >CD16</text>
<clipPath id="cp2"><rect x="159.5" y="168.0" width="84.0" height="79.4"/></clipPath>
<path d="M181.4,200.7h.5M191.6,216.3h.5M238.7,202.2h.5M189.0,224.6h.5M230.0,211.4h.5M245.1,211.3h.5M190.6,208.6h.5M224.7,206.0h.5M196.8,213.2h.5M196.3,216.3h.5M200.9,199.7h.5M182.3,213.1h.5M198.9,232.7h.5M193.7,207.0h.5M235.9,199.7h.5M205.1,201.1h.5M196.7,194.5h.5M236.2,213.9h.5M191.5,209.2h.5M237.4,205.2h.5M242.6,221.0h.5M213.5,229.2h.5M192.6,198.6h.5M183.6,218.4h.5M176.8,214.7h.5M184.8,212.6h.5M196.1,212.1h.5M198.5,207.0h.5M234.9,217.9h.5M175.8,212.1h.5M246.9,205.4h.5M205.3,216.6h.5M186.8,217.1h.5M217.8,210.5h.5M187.5,211.7h.5M178.2,225.7h.5M240.0,207.4h.5M192.8,206.8h.5M181.8,200.3h.5M178.2,205.5h.5M207.9,195.4h.5M211.8,207.9h.5M181.0,211.5h.5M229.0,185.3h.5M187.5,208.3h.5M227.1,210.4h.5M202.1,208.2h.5M210.8,197.2h.5M208.4,218.9h.5M219.7,198.5h.5M240.3,190.5h.5M221.4,193.8h.5M196.3,208.8h.5M201.6,215.9h.5M186.0,219.3h.5M195.6,210.8h.5M195.9,197.1h.5M193.7,201.9h.5M239.7,193.9h.5M243.4,202.8h.5M236.3,186.6h.5M224.2,206.0h.5M191.3,213.9h.5M185.1,205.9h.5M189.0,211.3h.5M194.9,199.0h.5M202.4,193.3h.5M223.7,198.2h.5M172.4,219.9h.5M178.3,217.8h.5M200.1,202.3h.5M205.3,216.6h.5M222.9,202.3h.5M231.5,219.0h.5M207.3,213.4h.5M193.5,204.2h.5M187.3,215.4h.5M183.5,200.6h.5M195.0,195.5h.5M241.3,188.3h.5M216.8,207.5h.5M189.6,208.5h.5M196.9,207.1h.5M233.5,200.1h.5M241.5,216.4h.5M216.9,201.8h.5M206.9,200.7h.5M185.9,219.4h.5M210.4,219.0h.5M222.2,206.6h.5M207.9,191.1h.5M197.5,202.7h.5M187.4,214.8h.5M174.2,208.8h.5M234.3,218.3h.5M211.6,192.6h.5M246.8,208.5h.5M180.6,202.9h.5M200.0,220.0h.5M224.5,203.3h.5M223.7,215.0h.5M184.2,202.7h.5M195.3,193.8h.5M213.7,194.9h.5M214.9,199.2h.5M208.0,197.1h.5M184.1,219.8h.5M246.2,215.1h.5M198.7,209.4h.5M208.5,194.9h.5M214.5,205.1h.5M173.5,202.3h.5M194.4,222.0h.5M185.6,211.9h.5M172.4,213.1h.5M178.9,204.6h.5M194.3,188.0h.5M186.1,200.4h.5M185.4,196.9h.5M236.0,207.3h.5M179.2,209.9h.5M186.5,201.2h.5M225.3,200.2h.5M209.3,221.2h.5M193.8,197.9h.5M189.9,199.3h.5M212.3,204.0h.5M188.3,201.6h.5M229.6,199.4h.5M221.1,208.8h.5M194.5,224.2h.5M184.2,192.1h.5M234.0,203.0h.5M185.2,208.3h.5M220.7,204.5h.5M254.6,201.7h.5M225.5,200.8h.5M236.7,212.9h.5M206.8,202.2h.5M210.2,202.4h.5M202.7,206.8h.5M183.9,209.1h.5M214.8,205.0h.5M191.7,217.1h.5M218.7,204.2h.5M229.2,205.3h.5M185.9,208.1h.5M180.6,199.0h.5M196.2,199.5h.5M190.3,196.8h.5M240.8,204.3h.5M247.9,195.8h.5M260.5,192.3h.5M228.1,206.9h.5M220.1,210.1h.5M200.3,191.3h.5M204.7,223.5h.5M195.2,209.3h.5M240.4,202.7h.5M189.6,218.1h.5M184.7,209.5h.5M194.2,202.0h.5M195.7,228.6h.5M223.4,194.5h.5M174.4,208.1h.5M170.4,216.3h.5M231.3,192.9h.5M215.9,202.5h.5M214.5,209.2h.5M208.6,228.9h.5M173.7,199.8h.5M240.9,202.8h.5M232.2,210.6h.5M206.1,207.2h.5M199.4,197.1h.5M203.5,212.2h.5M186.2,208.4h.5M202.4,211.9h.5M185.7,219.6h.5M201.7,216.8h.5M208.8,210.8h.5M185.0,210.9h.5M191.7,196.9h.5M186.6,206.4h.5M189.9,209.5h.5M212.3,201.8h.5M191.8,207.5h.5M177.9,200.5h.5M232.7,218.6h.5M204.7,226.9h.5M204.7,203.1h.5M204.7,208.6h.5M217.4,202.2h.5M227.9,215.5h.5M229.5,208.0h.5M212.1,205.9h.5M229.3,202.6h.5M184.6,209.8h.5M219.7,195.4h.5M189.6,214.5h.5M195.7,201.3h.5M179.7,213.8h.5M207.0,208.5h.5M185.1,219.4h.5M217.5,205.1h.5M224.1,214.2h.5M230.5,195.5h.5M192.7,214.5h.5M222.9,203.3h.5M234.9,205.5h.5M188.9,209.6h.5M187.6,217.3h.5M200.8,188.8h.5M201.5,209.9h.5M168.1,194.3h.5M218.5,217.7h.5M195.2,188.8h.5M206.0,195.8h.5M204.9,190.4h.5M211.0,220.6h.5M206.9,195.9h.5M224.5,205.9h.5M209.2,199.5h.5M226.1,187.6h.5M178.8,205.7h.5M258.0,208.9h.5M201.0,204.2h.5M171.3,216.9h.5M200.4,203.6h.5M202.6,206.5h.5M202.0,202.7h.5M170.9,211.4h.5M193.6,226.1h.5M209.7,210.9h.5M210.3,206.0h.5M210.1,201.1h.5M176.7,201.8h.5M221.0,220.8h.5M190.7,197.8h.5M179.5,200.3h.5M254.1,201.3h.5M196.0,203.8h.5M202.0,224.8h.5M201.2,185.0h.5M177.5,212.3h.5M222.2,209.8h.5M258.0,192.0h.5M183.3,202.3h.5M193.7,211.2h.5M199.0,222.9h.5M172.3,199.8h.5M205.0,190.2h.5M222.4,213.4h.5M220.3,218.8h.5M218.2,201.9h.5M190.7,188.0h.5M184.2,222.0h.5M209.6,204.5h.5M225.0,215.6h.5M187.6,206.9h.5M202.8,203.3h.5M223.9,199.3h.5M190.3,223.0h.5M194.1,221.7h.5M191.4,187.6h.5M234.9,193.2h.5M189.1,225.1h.5M175.2,205.4h.5M204.7,194.2h.5M214.5,205.4h.5M178.1,207.5h.5M239.7,202.7h.5M192.9,203.8h.5M215.0,201.9h.5M195.2,204.2h.5M233.1,206.4h.5M184.3,200.6h.5M223.3,201.9h.5M225.3,202.3h.5M185.7,220.5h.5M181.5,212.3h.5M223.6,204.8h.5M217.0,211.6h.5M200.7,210.5h.5M240.3,214.5h.5M201.4,211.6h.5M207.4,223.6h.5M211.0,219.4h.5M203.7,206.5h.5M218.6,203.3h.5M187.3,216.9h.5M181.4,212.8h.5M201.1,207.1h.5M185.7,194.1h.5M224.1,186.7h.5M158.1,212.0h.5M195.7,215.7h.5M213.2,214.0h.5M199.3,195.5h.5M197.1,218.0h.5M210.4,202.3h.5M204.1,210.2h.5M225.5,209.1h.5M237.9,194.7h.5M230.0,197.9h.5M208.6,187.3h.5M204.4,198.2h.5M187.4,190.0h.5M191.8,212.3h.5M240.7,203.1h.5M175.2,217.6h.5M190.8,211.7h.5M213.1,199.2h.5M197.5,209.1h.5M181.3,204.3h.5M255.9,208.4h.5M185.4,210.2h.5M213.3,196.4h.5M188.0,208.8h.5M241.9,203.6h.5M172.8,205.8h.5M194.6,215.8h.5M237.2,219.4h.5M248.4,199.1h.5M232.2,199.7h.5M220.8,182.4h.5M197.0,207.0h.5M190.8,204.8h.5M204.2,186.3h.5M176.9,211.6h.5M246.6,208.0h.5M182.0,202.0h.5M200.4,204.2h.5M176.4,199.2h.5M182.1,216.2h.5M202.9,192.1h.5M173.0,205.9h.5M239.2,221.6h.5M218.9,205.5h.5M192.4,211.9h.5M235.3,202.2h.5M215.9,192.9h.5M192.9,207.4h.5M236.1,207.4h.5M242.5,193.0h.5M222.4,208.8h.5M184.6,219.4h.5M224.6,213.2h.5M243.5,187.6h.5M198.4,198.3h.5M200.7,193.5h.5M239.6,213.5h.5M209.3,211.0h.5M195.2,214.9h.5M202.0,197.7h.5M179.7,196.7h.5M261.3,203.6h.5M197.0,208.6h.5M192.8,200.3h.5M186.4,210.3h.5M209.6,213.7h.5M248.4,204.3h.5M198.1,198.4h.5M192.7,186.8h.5M232.4,199.8h.5M193.2,210.6h.5M204.1,205.4h.5M234.5,199.7h.5M184.9,202.2h.5M241.4,209.5h.5M225.5,203.2h.5M197.6,209.8h.5M216.7,196.6h.5M212.6,200.2h.5M222.3,206.5h.5M201.1,198.3h.5M201.0,195.4h.5M195.1,205.0h.5M181.5,219.3h.5M190.2,210.3h.5M256.4,216.8h.5M231.8,201.9h.5M194.2,204.5h.5M226.7,191.7h.5M211.8,201.1h.5M196.1,221.6h.5M180.9,210.7h.5M247.8,209.3h.5M184.1,214.3h.5M203.0,205.8h.5M246.3,200.6h.5M189.2,209.0h.5M235.9,210.3h.5M210.3,213.1h.5M229.1,209.3h.5M235.0,205.4h.5M224.0,196.3h.5M239.1,199.8h.5M211.5,195.9h.5M240.2,211.8h.5M181.4,188.0h.5M200.3,204.3h.5M185.8,231.0h.5M174.1,205.6h.5M188.1,196.2h.5M209.7,204.6h.5M230.2,216.4h.5M181.7,207.5h.5M250.1,208.4h.5M198.0,209.1h.5M188.5,204.4h.5M236.8,233.6h.5M224.6,203.8h.5M242.1,199.5h.5M203.8,203.0h.5M200.0,210.4h.5M221.4,207.6h.5M198.3,214.8h.5M212.8,205.3h.5M220.0,190.6h.5M208.5,211.8h.5M237.7,200.1h.5M192.6,204.6h.5M231.9,190.4h.5M205.9,200.0h.5M196.0,200.8h.5M202.4,205.9h.5M204.9,191.9h.5M210.9,206.7h.5M175.0,209.9h.5M262.3,191.5h.5M238.8,196.4h.5M198.4,200.8h.5M232.3,211.2h.5M211.7,182.3h.5M173.7,205.4h.5M218.7,188.0h.5M201.2,202.9h.5M226.5,212.8h.5M219.8,197.7h.5M217.1,207.6h.5M175.0,200.9h.5M231.3,222.2h.5M222.4,213.6h.5M243.4,213.6h.5M175.0,195.4h.5M240.7,193.7h.5M239.6,213.5h.5M191.3,205.7h.5M189.6,204.7h.5M179.3,210.8h.5M169.5,197.1h.5M193.0,215.6h.5M190.7,207.8h.5M173.7,213.3h.5M220.7,197.9h.5M212.7,211.9h.5M206.5,199.3h.5M186.1,217.0h.5M206.8,218.2h.5M228.1,213.1h.5M202.6,211.7h.5M206.2,211.8h.5M185.9,181.4h.5M198.5,214.0h.5M233.0,200.4h.5M188.3,208.9h.5M208.7,203.7h.5M223.3,191.8h.5M184.6,203.7h.5M245.1,208.7h.5M195.7,220.0h.5M170.7,202.2h.5M220.3,195.8h.5M221.5,217.6h.5M208.5,197.1h.5M236.5,222.6h.5M172.2,209.3h.5M196.9,197.9h.5M222.4,213.9h.5M239.9,218.9h.5M209.3,191.8h.5M216.1,220.5h.5M195.1,204.6h.5M200.9,220.1h.5M208.6,202.5h.5M253.8,188.0h.5M224.9,208.5h.5M232.7,213.4h.5M251.3,222.7h.5M194.9,225.3h.5M218.6,210.9h.5M219.0,204.5h.5M225.0,199.5h.5M189.5,205.1h.5M200.1,198.9h.5M235.5,201.2h.5M181.9,184.8h.5M189.9,209.6h.5M214.4,206.3h.5M226.7,227.9h.5M181.4,215.2h.5M237.0,199.2h.5M195.0,213.5h.5M201.3,196.2h.5M199.1,200.4h.5M225.1,187.6h.5M239.6,216.9h.5M250.4,208.9h.5M178.6,197.0h.5M225.3,203.9h.5M212.0,214.5h.5M183.3,212.0h.5M220.0,207.8h.5M246.7,194.9h.5M198.9,200.6h.5M232.7,203.8h.5M191.4,217.4h.5M193.9,200.7h.5M233.5,193.7h.5M185.4,218.7h.5M210.1,197.0h.5M212.9,216.8h.5M179.1,210.9h.5M217.9,212.8h.5M230.2,221.1h.5M197.9,215.2h.5M179.9,215.4h.5M206.2,195.3h.5M226.2,196.3h.5M226.0,209.4h.5M203.3,221.1h.5M200.9,220.7h.5M199.4,228.9h.5M179.9,211.4h.5M205.4,208.5h.5M180.1,217.8h.5M184.9,208.7h.5M191.0,206.8h.5M204.8,198.9h.5M209.2,216.2h.5M212.2,194.8h.5M207.2,210.2h.5M240.8,188.8h.5M222.0,213.6h.5M208.1,195.7h.5M230.9,211.1h.5M208.1,191.8h.5M224.5,199.8h.5M184.3,219.1h.5M194.8,198.7h.5M235.0,202.8h.5M211.0,201.2h.5M203.0,184.5h.5M236.7,207.0h.5M187.2,211.9h.5M240.0,193.2h.5M183.4,214.4h.5M188.6,200.6h.5M168.9,198.9h.5M178.7,208.2h.5M248.0,196.1h.5M193.1,230.8h.5M193.5,193.1h.5M216.2,213.0h.5M216.4,214.3h.5M222.8,185.4h.5M191.0,190.9h.5M196.1,213.6h.5M235.9,198.9h.5M181.8,212.3h.5M179.3,219.7h.5M193.1,204.7h.5M206.6,196.5h.5M234.3,176.7h.5M236.7,206.6h.5M211.1,197.2h.5M205.9,209.3h.5M231.7,207.2h.5M222.4,192.4h.5M193.1,224.0h.5M187.4,219.1h.5M177.8,216.4h.5M221.3,192.9h.5M195.1,201.6h.5M238.3,198.8h.5M165.5,205.0h.5M243.2,192.3h.5M189.5,211.5h.5M231.5,204.9h.5M209.6,209.3h.5M210.0,201.4h.5M235.0,216.1h.5M228.7,207.3h.5M220.6,179.1h.5M192.6,202.5h.5M206.9,205.2h.5M201.1,216.7h.5M183.7,206.0h.5M180.3,206.3h.5M202.1,200.4h.5M189.3,214.4h.5M226.8,200.1h.5M187.2,203.0h.5M176.8,201.9h.5M240.4,207.3h.5M198.9,202.7h.5M190.6,190.5h.5M182.1,214.2h.5M200.5,201.7h.5M174.8,210.6h.5M221.4,207.6h.5M187.4,220.4h.5M217.5,213.6h.5M268.1,196.6h.5M186.6,204.5h.5M207.5,195.2h.5M201.7,224.1h.5M194.0,212.6h.5M191.3,221.0h.5M235.9,200.5h.5M173.4,189.5h.5M233.9,218.7h.5M207.5,206.1h.5M178.8,210.2h.5M190.7,209.4h.5M213.1,210.7h.5M214.4,210.2h.5M194.0,192.7h.5M222.4,213.7h.5M197.3,203.3h.5M202.3,202.6h.5M170.7,225.1h.5M214.8,214.1h.5M176.1,205.6h.5M180.4,190.8h.5M225.9,205.8h.5M198.3,211.6h.5M224.7,204.5h.5M216.5,192.8h.5M220.5,198.2h.5M186.4,196.5h.5M226.8,207.0h.5M179.0,216.5h.5M186.0,217.8h.5M191.0,199.9h.5M188.5,211.0h.5M191.2,214.0h.5M233.8,200.5h.5M234.2,203.1h.5M198.0,227.6h.5M195.3,209.2h.5M190.5,216.7h.5M205.6,202.2h.5M222.6,206.3h.5M248.6,186.4h.5M174.4,208.7h.5M232.3,214.3h.5M257.7,222.0h.5M197.1,218.9h.5M219.8,211.2h.5M240.5,204.3h.5M212.4,199.6h.5M188.9,206.4h.5M209.5,211.4h.5M218.5,195.8h.5M190.7,217.6h.5M192.7,197.3h.5M176.4,192.1h.5M225.9,193.9h.5M232.5,188.4h.5M181.1,195.9h.5M223.6,215.2h.5M204.7,203.1h.5M183.2,210.8h.5M193.6,217.3h.5M221.4,217.0h.5M196.9,202.8h.5M204.5,219.1h.5M262.0,205.9h.5M218.9,205.5h.5M209.5,210.7h.5M183.3,195.3h.5M182.1,201.2h.5M241.0,202.5h.5M232.6,210.3h.5M220.3,200.1h.5M219.0,204.7h.5M214.2,215.1h.5M214.7,219.7h.5M226.6,211.9h.5M182.9,219.7h.5M194.1,202.7h.5M217.8,203.8h.5M218.7,208.3h.5M175.6,205.4h.5M184.2,204.2h.5M179.7,224.5h.5M170.3,206.6h.5M213.9,194.3h.5M207.4,209.4h.5M226.2,221.9h.5M200.1,207.7h.5M181.1,220.5h.5M204.4,202.6h.5M239.0,198.7h.5M187.1,199.9h.5M211.6,204.1h.5M189.1,224.8h.5M174.4,197.6h.5M209.1,221.1h.5M202.2,197.1h.5M192.1,205.4h.5M177.3,216.0h.5M215.2,210.9h.5M210.0,210.4h.5M200.9,190.3h.5M175.4,211.5h.5M226.5,194.7h.5M201.2,231.8h.5M206.8,204.7h.5M230.4,204.5h.5M229.7,193.8h.5M216.0,200.0h.5M184.4,195.4h.5M226.7,212.9h.5M195.9,204.8h.5M251.9,207.5h.5M242.3,196.6h.5M216.1,200.5h.5M239.0,215.9h.5M208.2,197.0h.5M230.0,187.5h.5M172.0,212.6h.5M232.5,191.3h.5M234.8,199.8h.5M172.7,217.3h.5M186.3,200.4h.5M208.9,214.3h.5M220.8,197.9h.5M180.9,222.8h.5M255.0,215.0h.5M172.9,203.1h.5M254.0,200.0h.5M243.6,196.5h.5M203.5,208.5h.5M195.3,218.4h.5M189.2,195.0h.5M198.3,217.5h.5M203.9,192.9h.5M226.6,196.1h.5M236.5,186.0h.5M200.3,227.5h.5M242.3,203.2h.5M197.3,210.2h.5M237.6,196.2h.5M239.5,213.0h.5M179.3,188.6h.5M228.1,203.7h.5M218.8,225.8h.5M218.6,201.2h.5M221.9,203.8h.5M220.3,212.6h.5M203.7,198.8h.5M183.9,207.7h.5M243.5,212.5h.5M231.1,204.9h.5M189.6,212.1h.5M225.6,200.9h.5M192.7,211.0h.5M187.7,209.0h.5M181.9,222.2h.5M210.0,212.8h.5M208.0,205.6h.5M169.9,184.9h.5M183.6,215.6h.5M196.9,214.9h.5M217.0,195.5h.5M169.6,190.0h.5M221.5,195.8h.5M208.7,214.5h.5M199.4,198.8h.5M196.1,203.5h.5M238.6,205.1h.5M250.5,213.7h.5M238.1,203.3h.5M195.6,207.6h.5M228.8,199.1h.5M202.2,222.4h.5M187.2,218.6h.5M214.5,205.8h.5M246.5,189.5h.5M226.7,195.7h.5M191.8,212.8h.5M184.9,202.0h.5M232.1,211.5h.5M242.4,205.6h.5M197.0,209.2h.5M185.8,214.5h.5M211.1,210.9h.5M227.8,196.8h.5M203.2,203.6h.5M212.5,229.8h.5M188.5,196.7h.5M218.8,203.4h.5M190.2,219.0h.5M193.7,206.6h.5M238.2,194.8h.5M157.0,196.4h.5M220.6,209.7h.5M228.8,213.8h.5M214.3,220.5h.5M199.6,206.3h.5M204.1,218.2h.5M214.9,195.4h.5M226.5,206.4h.5M201.0,198.2h.5M204.9,208.2h.5M241.2,209.4h.5M240.0,213.5h.5M210.4,196.6h.5M208.5,217.1h.5M198.6,203.5h.5M247.4,192.8h.5M220.3,203.8h.5M245.5,189.2h.5M200.6,208.0h.5M245.1,204.9h.5M171.7,206.9h.5M194.7,211.4h.5M194.9,205.8h.5M192.5,208.5h.5M226.0,190.6h.5M178.4,209.3h.5M196.9,199.3h.5M186.7,204.1h.5M229.9,202.6h.5M176.6,210.6h.5M212.3,192.0h.5M235.2,188.6h.5M213.4,202.1h.5M208.9,209.4h.5M240.0,205.5h.5M187.4,217.5h.5M223.2,217.6h.5M221.6,209.2h.5M224.2,204.3h.5M218.2,195.0h.5M172.9,199.9h.5M193.7,204.4h.5M229.0,206.8h.5M233.6,207.7h.5M183.5,208.1h.5M179.9,207.5h.5M214.2,212.3h.5M180.7,210.8h.5M211.9,207.3h.5M186.1,210.5h.5M229.7,198.7h.5M185.9,199.0h.5M203.1,211.2h.5M191.6,212.7h.5M234.9,202.1h.5M211.4,202.1h.5M188.7,229.8h.5M241.2,195.2h.5M222.9,203.0h.5M201.7,210.2h.5M233.7,192.5h.5M200.3,208.5h.5M238.6,219.7h.5M179.7,216.7h.5M236.9,208.2h.5M188.5,214.5h.5M226.4,205.7h.5M204.9,217.0h.5M199.7,205.6h.5M221.8,201.4h.5M192.9,209.9h.5M196.4,216.9h.5M178.0,211.9h.5M221.4,211.0h.5M189.0,189.0h.5M195.8,217.9h.5M197.5,229.9h.5M197.3,220.9h.5M236.6,199.7h.5M221.6,198.4h.5M213.2,208.0h.5M218.3,195.5h.5M228.1,210.7h.5M183.9,203.1h.5M186.0,218.0h.5M202.2,219.7h.5M199.7,189.2h.5M186.4,211.8h.5M243.8,196.2h.5M211.9,192.1h.5M186.6,201.3h.5M183.6,206.6h.5" stroke="#555" stroke-width="0.5" stroke-opacity="0.7" fill="none" clip-path="url(#cp2)"/>
<path d="M179,209 C179,196 200,197 210,197.5 C222,195 232,186 243.5,184 L243.5,225 C230,226 222,221 210,220.5 C198,221 179,221 179,209 Z" fill="#fff" fill-opacity="0.9" clip-path="url(#cp2)"/>
<ellipse cx="234" cy="207" rx="12" ry="9" fill="#e0e0e0" clip-path="url(#cp2)"/>
<ellipse cx="234" cy="207.5" rx="2.4" ry="1.8" fill="#fff" clip-path="url(#cp2)"/>
<path d="M251.5,217.6 251.2,217.8 251.0,218.0 250.7,218.2 250.4,218.5 250.0,218.8 249.8,218.9 249.5,219.1 249.2,219.3 248.9,219.5 248.5,219.7 248.2,219.9 248.0,220.0 247.6,220.2 247.2,220.4 247.0,220.6 246.7,220.8 246.2,221.0 246.0,221.1 245.6,221.2 245.2,221.4 245.0,221.5 244.5,221.7 244.2,221.8 243.8,222.0 243.5,222.1 243.1,222.2 242.8,222.4 242.4,222.5 242.0,222.6 241.6,222.8 241.2,222.8 240.8,223.0 240.5,223.1 240.0,223.2 239.7,223.2 239.2,223.4 238.8,223.5 238.5,223.5 238.0,223.6 237.5,223.7 237.1,223.8 236.8,223.8 236.2,223.9 235.8,223.9 235.2,224.0 235.0,224.0 234.5,224.1 234.0,224.1 233.5,224.1 233.0,224.1 232.5,224.2 232.0,224.2 231.5,224.2 231.0,224.2 230.5,224.1 230.0,224.1 229.5,224.1 229.0,224.1 228.5,224.0 228.2,224.0 227.8,223.9 227.2,223.9 226.8,223.8 226.3,223.8 226.0,223.7 225.5,223.6 225.0,223.5 224.8,223.5 224.2,223.4 223.8,223.3 223.5,223.2 223.0,223.1 222.5,223.0 222.2,222.9 221.8,222.8 221.5,222.7 221.0,222.6 220.6,222.5 220.2,222.4 219.8,222.2 219.5,222.2 219.0,222.0 218.8,221.9 218.2,221.8 218.0,221.7 217.5,221.5 217.2,221.5 216.8,221.3 216.5,221.2 216.0,221.1 215.7,221.0 215.2,220.9 214.8,220.8 214.5,220.7 214.0,220.6 213.6,220.5 213.3,220.4 212.8,220.4 212.2,220.3 211.8,220.3 211.2,220.3 211.0,220.2 210.5,220.2 210.2,220.2 209.8,220.3 209.2,220.3 208.8,220.3 208.2,220.4 207.8,220.4 207.2,220.5 207.0,220.5 206.5,220.6 206.0,220.6 205.5,220.7 205.0,220.7 204.7,220.8 204.2,220.8 203.8,220.8 203.2,220.9 202.8,220.9 202.3,221.0 201.8,221.0 201.5,221.0 201.0,221.0 200.5,221.1 200.0,221.1 199.5,221.1 199.0,221.1 198.5,221.1 198.0,221.1 197.5,221.0 197.0,221.0 196.7,221.0 196.3,221.0 195.8,220.9 195.2,220.9 194.8,220.8 194.2,220.8 194.0,220.7 193.5,220.7 193.0,220.6 192.6,220.5 192.2,220.4 191.8,220.3 191.3,220.2 191.0,220.2 190.5,220.1 190.2,220.0 189.8,219.9 189.4,219.8 189.0,219.6 188.6,219.5 188.2,219.4 187.9,219.2 187.5,219.1 187.2,219.0 186.8,218.8 186.5,218.7 186.0,218.5 185.8,218.4 185.5,218.2 185.0,218.0 184.8,217.9 184.5,217.7 184.1,217.5 183.8,217.3 183.5,217.2 183.2,217.0 182.9,216.8 182.5,216.5 182.2,216.3 182.0,216.1 181.8,215.9 181.5,215.7 181.2,215.4 181.0,215.2 180.8,214.9 180.5,214.7 180.2,214.4 180.0,214.1 179.8,213.8 179.6,213.5 179.4,213.2 179.2,213.0 179.0,212.6 178.8,212.2 178.7,212.0 178.5,211.5 178.4,211.2 178.3,210.7 178.2,210.5 178.1,210.0 178.1,209.5 178.1,209.0 178.1,208.5 178.1,208.0 178.2,207.5 178.3,207.2 178.4,206.8 178.5,206.5 178.7,206.0 178.8,205.7 179.0,205.4 179.2,205.0 179.4,204.8 179.6,204.5 179.8,204.2 180.0,203.9 180.2,203.6 180.5,203.3 180.7,203.1 181.0,202.8 181.2,202.6 181.5,202.3 181.8,202.1 182.0,201.9 182.2,201.7 182.6,201.5 182.9,201.2 183.2,201.0 183.5,200.9 183.8,200.7 184.1,200.5 184.5,200.3 184.8,200.1 185.0,200.0 185.5,199.8 185.8,199.6 186.0,199.5 186.5,199.3 186.8,199.2 187.2,199.0 187.5,198.9 187.9,198.8 188.2,198.6 188.6,198.5 189.0,198.4 189.4,198.2 189.8,198.2 190.2,198.0 190.5,198.0 191.0,197.8 191.4,197.8 191.8,197.7 192.2,197.6 192.7,197.5 193.0,197.4 193.5,197.4 194.0,197.3 194.4,197.2 194.8,197.2 195.2,197.2 195.8,197.1 196.2,197.1 196.8,197.0 197.2,197.0 197.6,197.0 198.0,197.0 198.5,197.0 199.0,197.0 199.5,197.0 200.0,197.0 200.2,197.0 200.8,197.0 201.3,197.0 201.8,197.1 202.2,197.1 202.8,197.1 203.2,197.2 203.8,197.2 204.0,197.3 204.5,197.3 205.0,197.4 205.5,197.4 206.0,197.5 206.4,197.5 206.8,197.5 207.2,197.6 207.8,197.6 208.2,197.7 208.8,197.7 209.2,197.7 209.8,197.7 210.2,197.6 210.8,197.6 211.2,197.5 211.5,197.5 212.0,197.4 212.5,197.3 212.8,197.2 213.2,197.0 213.5,196.9 214.0,196.8 214.2,196.6 214.6,196.5 215.0,196.3 215.2,196.2 215.6,196.0 216.0,195.8 216.2,195.7 216.6,195.5 217.0,195.3 217.2,195.2 217.6,195.0 218.0,194.8 218.2,194.7 218.6,194.5 219.0,194.3 219.2,194.1 219.5,194.0 220.0,193.8 220.2,193.7 220.6,193.5 221.0,193.3 221.2,193.2 221.6,193.0 222.0,192.8 222.2,192.7 222.7,192.5 223.0,192.4 223.3,192.2 223.8,192.1 224.0,191.9 224.5,191.8 224.8,191.6 225.1,191.5 225.5,191.3 225.8,191.2 226.3,191.0 226.5,191.0 227.0,190.8 227.2,190.7 227.7,190.5 228.0,190.4 228.4,190.2 228.8,190.1 229.1,190.0 229.5,189.9 229.9,189.8 230.2,189.6 230.6,189.5 231.0,189.4 231.4,189.2 231.8,189.1 232.2,189.0 232.5,188.9 233.0,188.8 233.2,188.7 233.8,188.5 234.0,188.4 234.5,188.3 234.8,188.2 235.3,188.1 235.5,188.0 236.0,187.8 236.3,187.8 236.8,187.6 237.1,187.5 237.5,187.4 238.0,187.2 238.2,187.2 238.8,187.0 239.0,186.9 239.5,186.8 239.8,186.7 240.2,186.6 240.5,186.5 241.0,186.4 241.4,186.2 241.8,186.1 242.2,186.0 242.5,185.9 243.0,185.8 243.2,185.7 243.8,185.6 244.0,185.5 244.5,185.4 244.9,185.2 245.2,185.2 245.8,185.0 246.0,185.0 246.5,184.8 246.8,184.8 247.2,184.6 247.8,184.5 248.0,184.5 248.5,184.3 248.9,184.2 249.2,184.2 249.8,184.0 250.0,184.0 250.5,183.9 251.0,183.8 251.2,183.7 M251.5,214.8 251.2,215.0 251.0,215.3 250.8,215.5 250.5,215.8 250.2,216.0 249.9,216.2 249.6,216.5 249.3,216.8 249.0,217.0 248.8,217.2 248.5,217.4 248.2,217.6 248.0,217.8 247.6,218.0 247.2,218.2 247.0,218.4 246.8,218.5 246.4,218.8 246.0,218.9 245.8,219.1 245.4,219.2 245.0,219.5 244.8,219.6 244.4,219.8 244.0,219.9 243.8,220.0 243.2,220.2 243.0,220.3 242.6,220.5 242.2,220.6 241.9,220.8 241.5,220.9 241.1,221.0 240.8,221.1 240.2,221.2 240.0,221.3 239.5,221.4 239.2,221.5 238.8,221.6 238.2,221.7 238.0,221.8 237.5,221.9 237.0,222.0 236.7,222.0 236.2,222.1 235.8,222.1 235.2,222.2 234.8,222.2 234.4,222.2 234.0,222.3 233.5,222.3 233.0,222.3 232.5,222.3 232.0,222.3 231.5,222.3 231.0,222.3 230.5,222.3 230.0,222.3 229.7,222.2 229.2,222.2 228.8,222.2 228.2,222.1 227.8,222.0 227.5,222.0 227.0,221.9 226.5,221.8 226.1,221.8 225.8,221.7 225.2,221.6 224.9,221.5 224.5,221.4 224.0,221.3 223.8,221.2 223.2,221.1 223.0,221.0 222.5,220.8 222.2,220.8 221.8,220.6 221.5,220.5 221.0,220.3 220.8,220.2 220.2,220.1 220.0,220.0 219.5,219.8 219.2,219.7 218.8,219.5 218.5,219.4 218.2,219.2 217.8,219.1 217.5,219.0 217.0,218.8 216.8,218.7 216.4,218.5 216.0,218.4 215.7,218.2 215.2,218.1 214.9,218.0 214.5,217.9 214.0,217.8 213.8,217.7 213.2,217.7 212.8,217.6 212.2,217.6 211.8,217.6 211.2,217.6 210.8,217.6 210.2,217.7 209.8,217.7 209.5,217.8 209.0,217.9 208.5,217.9 208.2,218.0 207.8,218.1 207.2,218.2 206.9,218.2 206.5,218.3 206.0,218.4 205.6,218.5 205.2,218.6 204.8,218.7 204.2,218.7 204.0,218.8 203.5,218.8 203.0,218.9 202.5,219.0 202.2,219.0 201.8,219.1 201.2,219.1 200.8,219.1 200.3,219.2 199.8,219.2 199.2,219.2 198.8,219.2 198.3,219.2 197.8,219.2 197.2,219.2 196.8,219.2 196.2,219.1 195.8,219.1 195.2,219.0 194.9,219.0 194.5,218.9 194.0,218.9 193.5,218.8 193.2,218.7 192.8,218.7 192.2,218.5 192.0,218.5 191.5,218.4 191.1,218.2 190.8,218.2 190.2,218.0 190.0,217.9 189.5,217.8 189.2,217.7 188.8,217.5 188.5,217.4 188.2,217.2 187.8,217.1 187.5,216.9 187.1,216.8 186.8,216.6 186.5,216.4 186.2,216.2 185.8,216.0 185.5,215.8 185.2,215.7 185.0,215.5 184.7,215.2 184.4,215.0 184.1,214.8 183.8,214.5 183.5,214.2 183.3,214.0 183.1,213.8 182.9,213.5 182.7,213.2 182.5,213.0 182.2,212.7 182.0,212.3 181.9,212.0 181.7,211.8 181.5,211.2 181.4,211.0 181.3,210.5 181.2,210.2 181.1,209.8 181.1,209.2 181.1,208.8 181.1,208.2 181.2,207.8 181.3,207.5 181.4,207.0 181.5,206.8 181.7,206.2 181.9,206.0 182.0,205.7 182.2,205.3 182.5,205.0 182.7,204.8 182.9,204.5 183.1,204.2 183.3,204.0 183.5,203.8 183.8,203.5 184.1,203.2 184.4,203.0 184.7,202.8 185.0,202.5 185.2,202.4 185.5,202.2 185.8,202.0 186.2,201.8 186.5,201.6 186.8,201.4 187.1,201.2 187.5,201.1 187.8,200.9 188.2,200.8 188.5,200.6 188.8,200.5 189.2,200.3 189.5,200.2 190.0,200.1 190.2,200.0 190.8,199.8 191.1,199.8 191.5,199.6 192.0,199.5 192.2,199.5 192.8,199.4 193.2,199.3 193.5,199.2 194.0,199.1 194.5,199.1 195.0,199.0 195.2,199.0 195.8,198.9 196.2,198.9 196.8,198.9 197.2,198.8 197.8,198.8 198.2,198.8 198.8,198.8 199.2,198.8 199.8,198.9 200.2,198.9 200.8,198.9 201.2,199.0 201.7,199.0 202.0,199.0 202.5,199.1 203.0,199.1 203.5,199.2 203.8,199.3 204.2,199.3 204.8,199.4 205.2,199.5 205.5,199.5 206.0,199.6 206.5,199.7 206.8,199.8 207.2,199.9 207.8,200.0 208.0,200.0 208.5,200.1 209.0,200.1 209.5,200.2 210.0,200.2 210.5,200.2 211.0,200.2 211.5,200.2 212.0,200.1 212.5,200.0 212.8,200.0 213.2,199.8 213.5,199.7 214.0,199.5 214.2,199.4 214.6,199.2 215.0,199.1 215.2,198.9 215.6,198.8 216.0,198.5 216.2,198.4 216.5,198.2 216.8,198.0 217.2,197.8 217.5,197.6 217.8,197.4 218.0,197.2 218.4,197.0 218.8,196.8 219.0,196.7 219.3,196.5 219.7,196.2 220.0,196.1 220.2,195.9 220.6,195.8 221.0,195.5 221.2,195.4 221.5,195.2 221.9,195.0 222.2,194.8 222.5,194.7 222.9,194.5 223.2,194.3 223.5,194.2 224.0,194.0 224.2,193.9 224.5,193.8 225.0,193.5 225.2,193.4 225.6,193.2 226.0,193.1 226.2,193.0 226.8,192.8 227.0,192.7 227.5,192.5 227.8,192.4 228.2,192.2 228.5,192.1 228.9,192.0 229.2,191.9 229.6,191.8 230.0,191.6 230.3,191.5 230.8,191.4 231.1,191.2 231.5,191.1 231.9,191.0 232.2,190.9 232.7,190.8 233.0,190.6 233.5,190.5 233.8,190.4 234.2,190.3 234.5,190.2 235.0,190.1 235.2,190.0 235.8,189.9 236.1,189.8 236.5,189.6 237.0,189.5 237.2,189.4 237.8,189.3 238.0,189.2 238.5,189.1 238.9,189.0 239.2,188.9 239.7,188.8 240.0,188.7 240.5,188.6 240.8,188.5 241.2,188.4 241.7,188.2 242.0,188.2 242.5,188.1 242.8,188.0 243.2,187.9 243.7,187.8 244.0,187.7 244.5,187.5 244.8,187.5 245.2,187.4 245.7,187.2 246.0,187.2 246.5,187.1 246.8,187.0 247.2,186.9 247.8,186.8 248.0,186.7 248.5,186.6 249.0,186.5 249.2,186.5 249.8,186.4 250.2,186.3 250.5,186.2 251.0,186.2 251.5,186.1 M251.5,211.8 251.2,212.2 251.0,212.5 250.8,212.8 250.6,213.0 250.4,213.2 250.2,213.5 249.9,213.8 249.7,214.0 249.5,214.2 249.2,214.5 249.0,214.8 248.7,215.0 248.4,215.2 248.1,215.5 247.8,215.8 247.5,216.0 247.2,216.2 247.0,216.3 246.8,216.5 246.4,216.8 246.0,217.0 245.8,217.2 245.5,217.3 245.2,217.5 244.8,217.7 244.5,217.9 244.2,218.0 243.8,218.2 243.5,218.4 243.2,218.5 242.8,218.7 242.5,218.8 242.0,219.0 241.8,219.1 241.4,219.2 241.0,219.4 240.6,219.5 240.2,219.6 239.8,219.8 239.5,219.8 239.0,220.0 238.8,220.0 238.2,220.1 237.8,220.2 237.5,220.3 237.0,220.4 236.5,220.5 236.2,220.5 235.8,220.6 235.2,220.6 234.8,220.7 234.2,220.7 233.8,220.7 233.2,220.7 233.0,220.8 232.5,220.8 232.0,220.8 231.7,220.8 231.2,220.7 230.7,220.7 230.2,220.7 229.8,220.6 229.2,220.6 228.8,220.5 228.5,220.5 228.0,220.4 227.5,220.3 227.1,220.2 226.7,220.2 226.2,220.1 226.0,220.0 225.5,219.9 225.0,219.8 224.8,219.7 224.2,219.5 224.0,219.4 223.5,219.3 223.2,219.2 222.8,219.0 222.5,218.9 222.1,218.8 221.8,218.6 221.5,218.5 221.0,218.3 220.8,218.2 220.4,218.0 220.0,217.8 219.8,217.7 219.4,217.5 219.0,217.3 218.8,217.2 218.4,217.0 218.0,216.8 217.8,216.6 217.5,216.5 217.0,216.2 216.8,216.1 216.5,216.0 216.0,215.8 215.8,215.6 215.4,215.5 215.0,215.3 214.7,215.2 214.2,215.1 213.8,215.0 213.5,215.0 213.0,214.9 212.5,214.9 212.0,214.9 211.5,215.0 211.2,215.0 210.8,215.1 210.3,215.2 210.0,215.3 209.5,215.4 209.2,215.5 208.8,215.7 208.4,215.8 208.0,215.9 207.6,216.0 207.2,216.1 206.8,216.2 206.5,216.3 206.0,216.5 205.8,216.5 205.2,216.7 205.0,216.8 204.5,216.9 204.0,217.0 203.8,217.0 203.2,217.1 202.8,217.2 202.5,217.3 202.0,217.3 201.5,217.4 201.0,217.5 200.6,217.5 200.2,217.5 199.8,217.6 199.2,217.6 198.8,217.6 198.2,217.6 197.8,217.6 197.2,217.6 196.8,217.6 196.2,217.5 195.9,217.5 195.5,217.5 195.0,217.4 194.5,217.3 194.1,217.2 193.8,217.2 193.2,217.1 192.8,217.0 192.5,216.9 192.0,216.8 191.8,216.7 191.2,216.6 191.0,216.5 190.5,216.3 190.2,216.2 189.8,216.0 189.5,215.9 189.2,215.8 188.8,215.5 188.5,215.4 188.2,215.2 187.8,215.0 187.5,214.8 187.2,214.7 187.0,214.5 186.7,214.2 186.4,214.0 186.1,213.8 185.8,213.5 185.6,213.2 185.3,213.0 185.1,212.8 184.9,212.5 184.8,212.2 184.5,211.8 184.3,211.5 184.2,211.2 184.0,210.8 183.9,210.5 183.8,210.0 183.8,209.7 183.7,209.2 183.7,208.8 183.8,208.3 183.8,208.0 183.9,207.5 184.0,207.2 184.2,206.8 184.3,206.5 184.5,206.2 184.8,205.8 184.9,205.5 185.1,205.2 185.3,205.0 185.6,204.8 185.8,204.5 186.1,204.2 186.4,204.0 186.7,203.8 187.0,203.5 187.2,203.3 187.5,203.2 187.8,203.0 188.2,202.8 188.5,202.6 188.8,202.5 189.2,202.2 189.5,202.1 189.8,202.0 190.2,201.8 190.5,201.7 191.0,201.5 191.2,201.4 191.8,201.3 192.0,201.2 192.5,201.1 192.9,201.0 193.2,200.9 193.8,200.8 194.2,200.8 194.5,200.7 195.0,200.6 195.5,200.6 196.0,200.5 196.2,200.5 196.8,200.5 197.2,200.4 197.8,200.4 198.2,200.4 198.8,200.4 199.2,200.5 199.8,200.5 200.1,200.5 200.5,200.5 201.0,200.6 201.5,200.6 202.0,200.7 202.2,200.8 202.8,200.8 203.2,200.9 203.6,201.0 204.0,201.1 204.5,201.2 204.8,201.3 205.2,201.4 205.7,201.5 206.0,201.6 206.5,201.7 206.8,201.8 207.2,201.9 207.5,202.0 208.0,202.1 208.4,202.2 208.8,202.4 209.2,202.5 209.5,202.5 210.0,202.6 210.5,202.7 210.8,202.8 211.2,202.8 211.8,202.8 212.2,202.8 212.6,202.8 213.0,202.7 213.5,202.5 213.8,202.4 214.1,202.2 214.5,202.1 214.8,201.9 215.1,201.8 215.5,201.5 215.8,201.3 216.0,201.1 216.2,201.0 216.5,200.8 216.9,200.5 217.2,200.2 217.5,200.0 217.8,199.8 218.0,199.6 218.2,199.5 218.5,199.2 218.9,199.0 219.2,198.8 219.5,198.5 219.8,198.4 220.0,198.2 220.3,198.0 220.7,197.8 221.0,197.5 221.2,197.4 221.5,197.2 221.9,197.0 222.2,196.8 222.5,196.6 222.8,196.5 223.2,196.2 223.5,196.1 223.8,195.9 224.1,195.8 224.5,195.5 224.8,195.4 225.1,195.2 225.5,195.1 225.8,194.9 226.2,194.8 226.5,194.6 226.8,194.5 227.2,194.3 227.5,194.2 228.0,194.0 228.2,193.9 228.6,193.8 229.0,193.6 229.3,193.5 229.8,193.3 230.0,193.2 230.5,193.1 230.8,193.0 231.2,192.8 231.6,192.8 232.0,192.6 232.4,192.5 232.8,192.4 233.2,192.2 233.5,192.2 234.0,192.0 234.2,192.0 234.8,191.8 235.0,191.8 235.5,191.6 236.0,191.5 236.2,191.4 236.8,191.3 237.0,191.2 237.5,191.1 238.0,191.0 238.2,191.0 238.7,190.8 239.1,190.8 239.5,190.7 240.0,190.5 240.2,190.5 240.8,190.4 241.2,190.3 241.5,190.2 242.0,190.1 242.5,190.0 242.8,189.9 243.2,189.8 243.7,189.8 244.0,189.7 244.5,189.6 244.9,189.5 245.2,189.4 245.8,189.3 246.2,189.2 246.5,189.2 247.0,189.1 247.5,189.0 247.8,189.0 248.2,188.9 248.8,188.8 249.2,188.8 249.5,188.7 250.0,188.6 250.5,188.6 251.0,188.5 251.2,188.5 M251.5,208.4 251.3,208.8 251.2,209.0 251.0,209.4 250.8,209.8 250.7,210.0 250.5,210.3 250.2,210.7 250.1,211.0 249.9,211.2 249.7,211.5 249.5,211.8 249.2,212.1 249.0,212.4 248.7,212.7 248.5,213.0 248.3,213.2 248.0,213.5 247.8,213.8 247.5,214.0 247.3,214.2 247.0,214.5 246.8,214.7 246.5,214.9 246.2,215.1 246.0,215.3 245.7,215.5 245.3,215.8 245.0,216.0 244.8,216.1 244.5,216.3 244.1,216.5 243.8,216.7 243.5,216.8 243.2,217.0 242.8,217.2 242.5,217.3 242.1,217.5 241.8,217.6 241.5,217.8 241.0,217.9 240.8,218.0 240.2,218.2 240.0,218.3 239.5,218.4 239.2,218.5 238.8,218.6 238.3,218.8 238.0,218.8 237.5,218.9 237.2,219.0 236.8,219.1 236.2,219.2 235.8,219.2 235.5,219.3 235.0,219.3 234.5,219.4 234.0,219.4 233.5,219.4 233.0,219.4 232.5,219.4 232.0,219.4 231.5,219.4 231.0,219.4 230.5,219.3 230.0,219.3 229.7,219.2 229.2,219.2 228.8,219.1 228.2,219.0 228.0,219.0 227.5,218.9 227.0,218.8 226.8,218.7 226.2,218.6 226.0,218.5 225.5,218.3 225.2,218.2 224.8,218.1 224.5,218.0 224.0,217.8 223.8,217.7 223.2,217.5 223.0,217.4 222.7,217.2 222.2,217.0 222.0,216.9 221.7,216.8 221.2,216.5 221.0,216.4 220.8,216.2 220.4,216.0 220.0,215.8 219.8,215.6 219.5,215.5 219.2,215.2 218.8,215.0 218.5,214.8 218.2,214.6 218.0,214.4 217.7,214.2 217.5,214.0 217.1,213.8 216.8,213.5 216.5,213.3 216.2,213.1 216.0,212.9 215.7,212.8 215.4,212.5 215.0,212.3 214.8,212.1 214.5,212.0 214.0,211.8 213.7,211.7 213.2,211.6 212.8,211.6 212.2,211.7 212.0,211.8 211.5,211.9 211.2,212.0 210.8,212.2 210.5,212.4 210.2,212.5 209.9,212.8 209.5,213.0 209.2,213.1 209.0,213.2 208.5,213.5 208.2,213.6 208.0,213.8 207.5,214.0 207.2,214.1 206.9,214.2 206.5,214.4 206.2,214.6 205.8,214.7 205.5,214.8 205.1,215.0 204.8,215.1 204.3,215.2 204.0,215.3 203.5,215.5 203.2,215.5 202.8,215.7 202.3,215.8 202.0,215.8 201.5,215.9 201.0,216.0 200.8,216.0 200.2,216.1 199.8,216.1 199.2,216.2 198.8,216.2 198.2,216.2 197.8,216.2 197.2,216.2 196.8,216.1 196.2,216.1 195.8,216.1 195.3,216.0 195.0,216.0 194.5,215.9 194.0,215.8 193.8,215.7 193.2,215.6 192.9,215.5 192.5,215.4 192.1,215.2 191.8,215.1 191.4,215.0 191.0,214.8 190.8,214.7 190.3,214.5 190.0,214.4 189.8,214.2 189.4,214.0 189.0,213.8 188.8,213.6 188.5,213.4 188.3,213.2 188.0,213.0 187.8,212.7 187.5,212.5 187.2,212.2 187.0,211.9 186.8,211.5 186.6,211.2 186.5,211.0 186.3,210.5 186.2,210.2 186.1,209.8 186.0,209.2 186.0,209.0 186.0,208.8 186.1,208.2 186.2,207.8 186.3,207.5 186.5,207.0 186.6,206.8 186.8,206.5 187.0,206.1 187.2,205.8 187.5,205.5 187.8,205.3 188.0,205.0 188.2,204.8 188.5,204.6 188.8,204.4 189.0,204.2 189.4,204.0 189.8,203.8 190.0,203.6 190.3,203.5 190.8,203.3 191.0,203.2 191.4,203.0 191.8,202.9 192.1,202.8 192.5,202.6 192.9,202.5 193.2,202.4 193.8,202.3 194.0,202.2 194.5,202.1 195.0,202.1 195.4,202.0 195.8,202.0 196.2,201.9 196.8,201.9 197.2,201.9 197.8,201.8 198.2,201.8 198.8,201.9 199.2,201.9 199.8,201.9 200.2,202.0 200.6,202.0 201.0,202.1 201.5,202.1 202.0,202.2 202.2,202.3 202.8,202.4 203.2,202.5 203.5,202.6 204.0,202.7 204.2,202.8 204.8,202.9 205.0,203.0 205.5,203.2 205.8,203.3 206.2,203.5 206.5,203.6 206.9,203.8 207.2,203.9 207.5,204.0 207.9,204.2 208.2,204.4 208.5,204.5 209.0,204.8 209.2,204.9 209.5,205.0 210.0,205.2 210.2,205.4 210.5,205.5 211.0,205.7 211.2,205.8 211.8,206.0 212.0,206.0 212.5,206.1 213.0,206.0 213.2,205.9 213.7,205.8 214.0,205.6 214.2,205.5 214.6,205.2 214.9,205.0 215.2,204.8 215.5,204.5 215.7,204.2 216.0,204.0 216.2,203.8 216.5,203.5 216.7,203.2 217.0,203.0 217.2,202.8 217.5,202.5 217.8,202.3 218.0,202.0 218.2,201.8 218.5,201.5 218.8,201.3 219.0,201.1 219.2,200.8 219.5,200.6 219.8,200.4 220.0,200.2 220.2,200.0 220.6,199.8 220.9,199.5 221.2,199.2 221.5,199.0 221.8,198.9 222.0,198.7 222.3,198.5 222.6,198.2 223.0,198.0 223.2,197.9 223.5,197.7 223.8,197.5 224.2,197.3 224.5,197.1 224.8,197.0 225.2,196.8 225.5,196.6 225.8,196.5 226.2,196.2 226.5,196.1 226.8,196.0 227.2,195.8 227.5,195.7 227.9,195.5 228.2,195.3 228.5,195.2 229.0,195.1 229.2,195.0 229.8,194.8 230.0,194.7 230.5,194.5 230.8,194.4 231.2,194.3 231.5,194.2 232.0,194.0 232.2,194.0 232.8,193.8 233.0,193.7 233.5,193.6 233.9,193.5 234.2,193.4 234.8,193.3 235.0,193.2 235.5,193.1 235.9,193.0 236.2,192.9 236.8,192.8 237.0,192.8 237.5,192.6 238.0,192.5 238.2,192.5 238.8,192.4 239.2,192.3 239.5,192.2 240.0,192.2 240.5,192.1 240.9,192.0 241.2,191.9 241.7,191.9 242.2,191.8 242.5,191.7 243.0,191.7 243.5,191.6 244.0,191.5 244.2,191.5 244.8,191.4 245.2,191.4 245.8,191.3 246.1,191.2 246.5,191.2 247.0,191.2 247.5,191.1 248.0,191.1 248.5,191.0 249.0,191.0 249.2,191.0 249.8,191.0 250.2,191.0 250.8,191.0 251.2,191.0 M195.3,203.2 195.8,203.2 196.2,203.1 196.8,203.1 197.2,203.1 197.8,203.1 198.2,203.1 198.7,203.1 199.2,203.1 199.8,203.1 200.2,203.2 200.5,203.2 201.0,203.3 201.5,203.4 201.8,203.5 202.2,203.6 202.7,203.8 203.0,203.8 203.5,204.0 203.8,204.1 204.2,204.2 204.5,204.4 204.7,204.5 205.2,204.8 205.5,204.9 205.8,205.0 206.1,205.2 206.5,205.5 206.8,205.7 207.0,205.9 207.2,206.1 207.5,206.3 207.8,206.5 208.0,206.8 208.2,207.1 208.5,207.4 208.7,207.8 208.8,208.0 209.0,208.5 209.0,209.0 209.0,209.0 209.0,209.5 208.8,210.0 208.7,210.2 208.5,210.6 208.2,210.9 208.0,211.2 207.8,211.5 207.5,211.7 207.2,212.0 207.0,212.2 206.8,212.4 206.5,212.5 206.2,212.8 205.8,213.0 205.5,213.2 205.2,213.3 204.8,213.5 204.5,213.6 204.2,213.8 203.8,214.0 203.5,214.0 203.0,214.2 202.8,214.3 202.2,214.4 202.0,214.5 201.5,214.6 201.0,214.7 200.7,214.8 200.2,214.8 199.8,214.9 199.2,214.9 198.8,215.0 198.2,215.0 197.8,215.0 197.2,215.0 196.8,214.9 196.2,214.9 195.8,214.8 195.3,214.8 195.0,214.7 194.5,214.6 194.1,214.5 193.8,214.4 193.2,214.3 193.0,214.2 192.5,214.0 192.2,213.9 191.9,213.8 191.5,213.6 191.2,213.4 190.9,213.2 190.5,213.0 190.2,212.8 190.0,212.6 189.8,212.4 189.5,212.2 189.2,211.9 189.0,211.6 188.8,211.3 188.5,211.0 188.4,210.8 188.2,210.4 188.1,210.0 188.0,209.5 188.0,209.2 188.0,208.8 188.0,208.5 188.1,208.0 188.2,207.6 188.4,207.2 188.5,207.0 188.8,206.7 189.0,206.4 189.2,206.1 189.5,205.8 189.8,205.6 190.0,205.4 190.2,205.2 190.5,205.0 190.9,204.8 191.2,204.6 191.5,204.4 191.9,204.2 192.2,204.1 192.5,204.0 193.0,203.8 193.2,203.7 193.8,203.6 194.1,203.5 194.5,203.4 195.0,203.3 195.3,203.2 M251.5,204.0 251.4,204.2 251.3,204.8 251.2,205.0 251.1,205.5 251.0,205.7 250.8,206.2 250.7,206.5 250.5,207.0 250.5,207.2 250.3,207.8 250.2,208.0 250.0,208.3 249.8,208.8 249.7,209.0 249.5,209.4 249.3,209.8 249.1,210.0 249.0,210.2 248.8,210.6 248.5,211.0 248.3,211.2 248.1,211.5 247.9,211.8 247.7,212.0 247.5,212.3 247.2,212.5 247.0,212.8 246.8,213.1 246.5,213.3 246.2,213.5 246.0,213.8 245.7,214.0 245.4,214.2 245.1,214.5 244.8,214.7 244.5,214.9 244.2,215.1 244.0,215.2 243.6,215.5 243.2,215.7 243.0,215.8 242.7,216.0 242.2,216.2 242.0,216.3 241.6,216.5 241.3,216.7 241.0,216.8 240.5,217.0 240.2,217.1 239.8,217.2 239.5,217.3 239.0,217.5 238.8,217.5 238.2,217.7 237.9,217.8 237.5,217.8 237.0,217.9 236.7,218.0 236.2,218.1 235.8,218.2 235.2,218.2 234.9,218.2 234.5,218.3 234.0,218.3 233.5,218.3 233.0,218.3 232.5,218.3 232.0,218.3 231.5,218.3 231.0,218.3 230.7,218.2 230.2,218.2 229.8,218.1 229.2,218.1 228.9,218.0 228.5,217.9 228.0,217.8 227.7,217.8 227.2,217.6 226.8,217.5 226.5,217.4 226.0,217.3 225.8,217.2 225.3,217.0 225.0,216.9 224.6,216.8 224.2,216.6 224.0,216.5 223.6,216.2 223.2,216.1 223.0,216.0 222.6,215.8 222.2,215.5 222.0,215.4 221.8,215.2 221.4,215.0 221.1,214.8 220.8,214.5 220.5,214.3 220.2,214.1 220.0,213.9 219.8,213.7 219.5,213.5 219.2,213.2 219.0,213.0 218.8,212.7 218.5,212.5 218.2,212.2 218.0,211.9 217.8,211.6 217.5,211.2 217.4,211.0 217.2,210.8 217.0,210.3 216.8,210.0 216.8,209.7 216.6,209.2 216.5,208.8 216.5,208.2 216.6,207.8 216.7,207.2 216.8,207.0 216.9,206.5 217.0,206.2 217.2,205.8 217.4,205.5 217.6,205.2 217.8,204.9 218.0,204.5 218.2,204.2 218.4,204.0 218.6,203.8 218.8,203.5 219.0,203.2 219.2,202.9 219.5,202.6 219.8,202.3 220.0,202.1 220.2,201.8 220.5,201.6 220.8,201.3 221.0,201.1 221.2,200.9 221.5,200.6 221.8,200.4 222.0,200.2 222.3,200.0 222.6,199.8 222.9,199.5 223.2,199.3 223.5,199.1 223.8,198.9 224.0,198.7 224.4,198.5 224.8,198.3 225.0,198.1 225.3,198.0 225.7,197.8 226.0,197.6 226.2,197.5 226.7,197.2 227.0,197.1 227.2,197.0 227.7,196.8 228.0,196.6 228.3,196.5 228.8,196.3 229.0,196.2 229.5,196.0 229.8,195.9 230.2,195.8 230.5,195.7 231.0,195.5 231.2,195.4 231.7,195.2 232.0,195.2 232.5,195.0 232.8,195.0 233.2,194.8 233.5,194.7 234.0,194.6 234.5,194.5 234.8,194.4 235.2,194.3 235.6,194.2 236.0,194.2 236.5,194.1 236.8,194.0 237.2,193.9 237.7,193.8 238.2,193.8 238.5,193.7 239.0,193.6 239.5,193.6 239.9,193.5 240.2,193.5 240.8,193.4 241.2,193.3 241.8,193.3 242.1,193.2 242.5,193.2 243.0,193.2 243.5,193.1 244.0,193.1 244.5,193.1 245.0,193.0 245.5,193.0 246.0,193.0 246.5,193.0 247.0,193.0 247.5,193.1 248.0,193.1 248.5,193.1 249.0,193.2 249.2,193.3 249.8,193.4 250.2,193.5 250.5,193.6 251.0,193.7 251.2,193.9 M239.9,194.5 240.2,194.5 240.8,194.4 241.2,194.4 241.8,194.4 242.2,194.3 242.8,194.3 243.3,194.3 243.8,194.3 244.2,194.4 244.8,194.4 245.2,194.4 245.8,194.5 246.0,194.5 246.5,194.6 247.0,194.7 247.3,194.8 247.8,194.9 248.1,195.0 248.5,195.2 248.8,195.3 249.2,195.5 249.5,195.7 249.8,196.0 250.0,196.2 250.2,196.5 250.3,196.8 250.5,197.1 250.6,197.5 250.8,197.9 250.8,198.2 250.8,198.8 250.9,199.2 250.8,199.8 250.8,200.2 250.8,200.8 250.7,201.0 250.7,201.5 250.6,202.0 250.5,202.5 250.5,202.8 250.4,203.2 250.3,203.8 250.2,204.0 250.1,204.5 250.0,205.0 249.9,205.3 249.8,205.8 249.7,206.0 249.6,206.5 249.5,206.8 249.3,207.2 249.2,207.5 249.0,208.0 248.9,208.2 248.8,208.6 248.6,209.0 248.4,209.2 248.2,209.6 248.0,210.0 247.8,210.2 247.7,210.5 247.5,210.8 247.2,211.1 247.0,211.4 246.8,211.7 246.5,212.0 246.3,212.2 246.0,212.5 245.8,212.8 245.5,213.0 245.2,213.2 245.0,213.4 244.8,213.6 244.5,213.8 244.2,214.0 243.9,214.2 243.6,214.5 243.2,214.7 243.0,214.9 242.8,215.0 242.3,215.2 242.0,215.4 241.8,215.5 241.3,215.8 241.0,215.9 240.7,216.0 240.2,216.2 240.0,216.3 239.5,216.5 239.2,216.6 238.8,216.7 238.5,216.8 238.0,216.9 237.7,217.0 237.2,217.1 236.8,217.2 236.4,217.2 236.0,217.3 235.5,217.4 235.0,217.4 234.5,217.5 234.2,217.5 233.8,217.5 233.2,217.5 232.8,217.6 232.2,217.5 231.8,217.5 231.4,217.5 231.0,217.5 230.5,217.4 230.0,217.3 229.5,217.3 229.2,217.2 228.8,217.1 228.2,217.0 228.0,217.0 227.5,216.8 227.2,216.7 226.8,216.6 226.5,216.5 226.0,216.3 225.8,216.2 225.2,216.0 225.0,215.9 224.7,215.8 224.2,215.5 224.0,215.4 223.7,215.2 223.3,215.0 223.0,214.8 222.8,214.7 222.5,214.5 222.2,214.2 221.9,214.0 221.5,213.8 221.3,213.5 221.0,213.3 220.8,213.0 220.5,212.8 220.3,212.5 220.0,212.2 219.8,212.0 219.6,211.8 219.5,211.5 219.2,211.2 219.0,210.8 218.9,210.5 218.8,210.2 218.6,209.8 218.5,209.4 218.4,209.0 218.4,208.5 218.3,208.0 218.4,207.5 218.5,207.0 218.5,206.8 218.7,206.2 218.8,206.0 219.0,205.5 219.1,205.2 219.2,205.0 219.5,204.5 219.7,204.2 219.8,204.0 220.0,203.8 220.2,203.4 220.5,203.1 220.8,202.8 221.0,202.5 221.2,202.2 221.5,202.0 221.7,201.8 222.0,201.5 222.2,201.2 222.5,201.0 222.8,200.8 223.0,200.6 223.2,200.4 223.5,200.2 223.8,200.0 224.1,199.8 224.5,199.5 224.8,199.3 225.0,199.1 225.2,199.0 225.6,198.8 226.0,198.5 226.2,198.4 226.5,198.2 227.0,198.0 227.2,197.9 227.5,197.8 228.0,197.5 228.2,197.4 228.6,197.2 229.0,197.1 229.2,197.0 229.8,196.8 230.0,196.7 230.5,196.5 230.8,196.4 231.2,196.3 231.5,196.2 232.0,196.0 232.2,195.9 232.8,195.8 233.0,195.7 233.5,195.6 233.9,195.5 234.2,195.4 234.8,195.3 235.0,195.2 235.5,195.1 236.0,195.0 236.3,195.0 236.8,194.9 237.2,194.8 237.8,194.8 238.0,194.7 238.5,194.7 239.0,194.6 239.5,194.5 239.9,194.5 M195.5,204.2 195.8,204.2 196.2,204.1 196.8,204.1 197.2,204.0 197.8,204.0 198.2,204.0 198.8,204.1 199.2,204.1 199.8,204.2 200.2,204.2 200.5,204.3 201.0,204.4 201.4,204.5 201.8,204.6 202.2,204.7 202.5,204.8 202.9,205.0 203.2,205.1 203.5,205.3 204.0,205.5 204.2,205.7 204.5,205.8 204.8,206.0 205.1,206.2 205.4,206.5 205.6,206.8 205.9,207.0 206.1,207.2 206.2,207.5 206.5,208.0 206.6,208.2 206.7,208.8 206.7,209.2 206.6,209.8 206.5,210.0 206.3,210.5 206.1,210.8 205.9,211.0 205.7,211.2 205.4,211.5 205.1,211.8 204.8,212.0 204.5,212.2 204.2,212.4 204.0,212.5 203.6,212.8 203.2,212.9 203.0,213.0 202.5,213.2 202.2,213.3 201.8,213.4 201.5,213.5 201.0,213.6 200.5,213.7 200.2,213.8 199.8,213.9 199.2,213.9 198.8,214.0 198.2,214.0 197.8,214.0 197.2,214.0 196.8,213.9 196.2,213.9 195.8,213.8 195.4,213.8 195.0,213.7 194.5,213.6 194.2,213.5 193.8,213.3 193.5,213.2 193.0,213.0 192.8,212.9 192.4,212.8 192.0,212.5 191.8,212.4 191.5,212.2 191.2,212.0 191.0,211.8 190.7,211.5 190.5,211.2 190.2,211.0 190.0,210.6 189.8,210.2 189.8,210.0 189.6,209.5 189.6,209.0 189.6,208.5 189.8,208.0 189.8,207.8 190.0,207.4 190.2,207.0 190.5,206.8 190.7,206.5 191.0,206.2 191.2,206.0 191.5,205.8 191.8,205.6 192.0,205.5 192.4,205.2 192.8,205.1 193.0,205.0 193.5,204.8 193.8,204.7 194.2,204.5 194.5,204.5 195.0,204.3 195.5,204.2 M238.6,195.5 239.0,195.5 239.5,195.4 240.0,195.4 240.5,195.4 241.0,195.4 241.5,195.4 242.0,195.4 242.5,195.4 243.0,195.4 243.5,195.5 243.8,195.5 244.2,195.6 244.8,195.7 245.1,195.8 245.5,195.8 246.0,196.0 246.2,196.1 246.6,196.2 247.0,196.4 247.2,196.6 247.5,196.8 247.8,197.0 248.1,197.2 248.3,197.5 248.5,197.8 248.8,198.2 248.9,198.5 249.0,198.8 249.1,199.2 249.2,199.8 249.3,200.0 249.3,200.5 249.3,201.0 249.3,201.5 249.3,202.0 249.3,202.5 249.2,202.9 249.2,203.2 249.2,203.8 249.1,204.2 249.0,204.7 248.9,205.0 248.8,205.5 248.8,205.8 248.6,206.2 248.5,206.7 248.4,207.0 248.3,207.4 248.1,207.8 248.0,208.0 247.8,208.5 247.7,208.8 247.5,209.1 247.3,209.5 247.1,209.8 246.9,210.0 246.8,210.3 246.5,210.6 246.2,211.0 246.0,211.2 245.8,211.5 245.6,211.8 245.4,212.0 245.1,212.2 244.8,212.5 244.6,212.8 244.3,213.0 244.0,213.2 243.8,213.4 243.5,213.6 243.2,213.8 242.9,214.0 242.5,214.2 242.3,214.4 242.0,214.6 241.6,214.8 241.2,215.0 241.0,215.1 240.6,215.2 240.2,215.4 240.0,215.5 239.5,215.7 239.2,215.8 238.8,216.0 238.5,216.0 238.0,216.2 237.7,216.2 237.2,216.4 236.8,216.5 236.5,216.5 236.0,216.6 235.5,216.7 235.0,216.7 234.8,216.8 234.2,216.8 233.8,216.8 233.2,216.8 232.8,216.8 232.2,216.8 231.8,216.8 231.3,216.7 231.0,216.7 230.5,216.7 230.0,216.6 229.5,216.5 229.2,216.5 228.8,216.3 228.4,216.2 228.0,216.2 227.5,216.0 227.2,215.9 226.8,215.8 226.5,215.6 226.1,215.5 225.8,215.3 225.5,215.2 225.1,215.0 224.8,214.8 224.5,214.7 224.2,214.5 223.8,214.2 223.5,214.1 223.2,213.9 223.0,213.7 222.8,213.5 222.5,213.2 222.2,213.0 221.9,212.8 221.7,212.5 221.5,212.2 221.3,212.0 221.0,211.7 220.8,211.3 220.6,211.0 220.4,210.8 220.2,210.4 220.1,210.0 220.0,209.8 219.8,209.2 219.8,208.8 219.7,208.5 219.7,208.0 219.7,207.5 219.8,207.2 219.9,206.8 220.0,206.2 220.1,206.0 220.2,205.5 220.4,205.2 220.5,205.0 220.8,204.5 220.9,204.2 221.1,204.0 221.2,203.7 221.5,203.4 221.8,203.1 222.0,202.8 222.2,202.5 222.5,202.2 222.7,202.0 223.0,201.8 223.2,201.5 223.5,201.3 223.7,201.1 224.0,200.8 224.2,200.6 224.5,200.5 224.8,200.2 225.1,200.0 225.5,199.8 225.8,199.6 226.0,199.4 226.3,199.2 226.7,199.0 227.0,198.9 227.2,198.7 227.7,198.5 228.0,198.3 228.2,198.2 228.7,198.0 229.0,197.9 229.3,197.8 229.8,197.6 230.0,197.5 230.5,197.3 230.8,197.2 231.2,197.0 231.5,196.9 232.0,196.8 232.2,196.7 232.7,196.6 233.0,196.5 233.5,196.4 234.0,196.3 234.2,196.2 234.8,196.1 235.2,196.0 235.5,195.9 236.0,195.8 236.5,195.8 236.8,195.7 237.2,195.7 237.8,195.6 238.2,195.5 238.6,195.5 M195.7,205.2 196.0,205.2 196.5,205.1 197.0,205.1 197.5,205.1 198.0,205.0 198.5,205.1 199.0,205.1 199.5,205.2 200.0,205.2 200.2,205.3 200.8,205.4 201.0,205.5 201.5,205.7 201.8,205.8 202.2,206.0 202.5,206.1 202.7,206.3 203.1,206.5 203.4,206.8 203.7,207.0 204.0,207.2 204.2,207.5 204.3,207.8 204.5,208.1 204.6,208.5 204.7,209.0 204.7,209.5 204.5,210.0 204.4,210.2 204.2,210.5 204.0,210.8 203.8,211.0 203.5,211.2 203.1,211.5 202.8,211.8 202.5,211.9 202.2,212.0 201.8,212.2 201.5,212.3 201.1,212.5 200.8,212.6 200.2,212.7 200.0,212.8 199.5,212.9 199.0,212.9 198.5,213.0 198.0,213.0 197.5,213.0 197.0,212.9 196.5,212.9 196.0,212.8 195.7,212.8 195.2,212.7 194.8,212.5 194.5,212.4 194.0,212.2 193.8,212.1 193.5,212.0 193.1,211.8 192.8,211.5 192.5,211.3 192.2,211.1 192.0,210.9 191.8,210.5 191.6,210.2 191.4,210.0 191.3,209.5 191.2,209.2 191.2,208.8 191.3,208.5 191.5,208.0 191.6,207.8 191.8,207.5 192.0,207.2 192.2,206.9 192.5,206.7 192.8,206.5 193.1,206.2 193.5,206.0 193.8,205.9 194.1,205.7 194.5,205.6 194.8,205.5 195.2,205.4 195.7,205.2 M236.6,196.5 237.0,196.5 237.5,196.4 238.0,196.4 238.5,196.3 239.0,196.3 239.5,196.3 240.0,196.3 240.5,196.3 241.0,196.3 241.5,196.3 242.0,196.4 242.5,196.4 243.0,196.5 243.2,196.6 243.8,196.7 244.1,196.8 244.5,196.9 244.8,197.0 245.2,197.2 245.5,197.3 245.8,197.5 246.2,197.8 246.5,198.0 246.7,198.3 247.0,198.5 247.1,198.8 247.3,199.0 247.5,199.4 247.7,199.8 247.8,200.0 247.9,200.5 248.0,201.0 248.0,201.2 248.1,201.8 248.1,202.2 248.1,202.8 248.1,203.2 248.1,203.8 248.0,204.2 248.0,204.6 247.9,205.0 247.8,205.5 247.8,205.9 247.7,206.2 247.5,206.8 247.4,207.0 247.3,207.5 247.2,207.8 247.0,208.1 246.8,208.5 246.7,208.8 246.5,209.1 246.3,209.5 246.1,209.8 246.0,210.0 245.8,210.3 245.5,210.6 245.2,210.9 245.0,211.2 244.8,211.5 244.5,211.8 244.3,212.0 244.0,212.2 243.7,212.5 243.5,212.7 243.2,212.9 243.0,213.1 242.7,213.2 242.4,213.5 242.0,213.7 241.8,213.9 241.5,214.0 241.1,214.2 240.8,214.4 240.5,214.5 240.0,214.8 239.8,214.9 239.4,215.0 239.0,215.2 238.7,215.2 238.2,215.4 237.9,215.5 237.5,215.6 237.0,215.7 236.8,215.8 236.2,215.9 235.8,216.0 235.5,216.0 235.0,216.1 234.5,216.1 234.0,216.1 233.5,216.2 233.0,216.2 232.5,216.2 232.0,216.1 231.5,216.1 231.0,216.0 230.7,216.0 230.2,215.9 229.8,215.8 229.3,215.8 229.0,215.7 228.5,215.5 228.2,215.5 227.8,215.3 227.5,215.2 227.0,215.0 226.8,214.9 226.3,214.8 226.0,214.6 225.8,214.5 225.3,214.2 225.0,214.0 224.8,213.9 224.5,213.7 224.2,213.5 223.8,213.2 223.5,213.0 223.3,212.8 223.0,212.5 222.8,212.3 222.5,212.0 222.3,211.8 222.1,211.5 221.9,211.2 221.8,210.9 221.5,210.5 221.4,210.2 221.2,209.9 221.1,209.5 221.0,209.1 220.9,208.8 220.9,208.2 220.9,207.8 220.9,207.2 221.0,206.8 221.0,206.5 221.2,206.0 221.3,205.8 221.5,205.2 221.6,205.0 221.8,204.7 222.0,204.3 222.2,204.0 222.3,203.8 222.5,203.5 222.8,203.2 223.0,202.9 223.2,202.6 223.5,202.4 223.8,202.1 224.0,201.9 224.2,201.6 224.5,201.4 224.8,201.2 225.0,201.0 225.4,200.8 225.7,200.5 226.0,200.3 226.2,200.1 226.5,200.0 226.9,199.8 227.3,199.5 227.5,199.4 227.8,199.2 228.2,199.0 228.5,198.9 228.8,198.7 229.2,198.5 229.5,198.4 229.9,198.2 230.2,198.1 230.5,198.0 231.0,197.8 231.2,197.7 231.8,197.6 232.0,197.5 232.5,197.4 232.9,197.2 233.2,197.1 233.8,197.0 234.0,197.0 234.5,196.9 235.0,196.8 235.2,196.7 235.8,196.6 236.2,196.6 236.6,196.5 M196.8,206.2 197.2,206.2 197.8,206.2 198.2,206.2 198.8,206.2 199.0,206.3 199.5,206.4 200.0,206.5 200.2,206.6 200.7,206.7 201.0,206.9 201.2,207.0 201.6,207.2 201.9,207.5 202.1,207.8 202.3,208.0 202.5,208.4 202.6,208.8 202.6,209.2 202.5,209.6 202.3,210.0 202.1,210.2 201.9,210.5 201.6,210.8 201.2,211.0 201.0,211.1 200.7,211.2 200.2,211.4 200.0,211.5 199.5,211.6 199.0,211.7 198.8,211.8 198.2,211.8 197.8,211.8 197.2,211.8 196.8,211.8 196.5,211.7 196.0,211.6 195.6,211.5 195.2,211.4 195.0,211.2 194.5,211.0 194.2,210.8 194.0,210.6 193.8,210.4 193.5,210.1 193.3,209.8 193.2,209.5 193.1,209.0 193.2,208.5 193.3,208.2 193.5,207.9 193.8,207.6 194.0,207.4 194.2,207.2 194.5,207.0 195.0,206.8 195.2,206.6 195.7,206.5 196.0,206.4 196.5,206.3 196.8,206.2 M237.6,197.0 238.0,197.0 238.5,197.0 239.0,196.9 239.5,196.9 240.0,197.0 240.5,197.0 240.8,197.0 241.2,197.1 241.8,197.1 242.2,197.2 242.5,197.3 243.0,197.4 243.3,197.5 243.8,197.6 244.0,197.8 244.5,198.0 244.8,198.1 245.0,198.3 245.3,198.5 245.6,198.8 245.8,199.0 246.1,199.2 246.2,199.5 246.5,199.9 246.7,200.2 246.8,200.5 247.0,201.0 247.0,201.2 247.1,201.8 247.2,202.2 247.2,202.7 247.3,203.0 247.3,203.5 247.3,204.0 247.2,204.2 247.2,204.7 247.1,205.2 247.0,205.8 247.0,206.0 246.8,206.5 246.8,206.8 246.6,207.2 246.5,207.5 246.3,208.0 246.2,208.2 246.0,208.7 245.8,209.0 245.7,209.2 245.5,209.5 245.2,209.9 245.0,210.2 244.8,210.5 244.6,210.8 244.4,211.0 244.2,211.2 243.9,211.5 243.7,211.8 243.4,212.0 243.1,212.2 242.8,212.5 242.5,212.7 242.2,212.9 242.0,213.1 241.7,213.2 241.3,213.5 241.0,213.7 240.8,213.8 240.4,214.0 240.0,214.2 239.8,214.3 239.2,214.5 239.0,214.6 238.5,214.8 238.2,214.8 237.8,215.0 237.5,215.1 237.0,215.2 236.7,215.2 236.2,215.3 235.8,215.4 235.3,215.5 235.0,215.5 234.5,215.6 234.0,215.6 233.5,215.6 233.0,215.6 232.5,215.6 232.0,215.6 231.5,215.5 231.1,215.5 230.8,215.5 230.2,215.4 229.8,215.3 229.5,215.2 229.0,215.1 228.7,215.0 228.2,214.9 227.9,214.8 227.5,214.6 227.2,214.5 226.8,214.3 226.5,214.2 226.2,214.0 225.8,213.8 225.5,213.6 225.2,213.4 225.0,213.2 224.6,213.0 224.3,212.8 224.0,212.5 223.8,212.2 223.5,212.0 223.3,211.8 223.1,211.5 222.9,211.2 222.7,211.0 222.5,210.6 222.3,210.2 222.2,210.0 222.0,209.5 221.9,209.2 221.8,208.8 221.8,208.4 221.7,208.0 221.7,207.5 221.8,207.2 221.8,206.8 221.9,206.2 222.0,206.0 222.2,205.5 222.3,205.2 222.5,204.9 222.7,204.5 222.9,204.2 223.0,204.0 223.2,203.7 223.5,203.4 223.8,203.1 224.0,202.8 224.2,202.5 224.5,202.3 224.8,202.0 225.0,201.8 225.2,201.6 225.5,201.4 225.8,201.2 226.0,201.0 226.3,200.8 226.7,200.5 227.0,200.3 227.2,200.2 227.5,200.0 228.0,199.8 228.2,199.6 228.5,199.5 229.0,199.2 229.2,199.1 229.5,199.0 230.0,198.8 230.2,198.7 230.7,198.5 231.0,198.4 231.4,198.2 231.8,198.1 232.2,198.0 232.5,197.9 233.0,197.8 233.2,197.7 233.8,197.6 234.2,197.5 234.5,197.4 235.0,197.3 235.5,197.2 235.8,197.2 236.2,197.1 236.8,197.1 237.2,197.0 237.6,197.0 M196.5,207.8 196.8,207.7 197.2,207.6 197.8,207.5 198.2,207.5 198.8,207.6 199.1,207.8 199.5,207.9 199.8,208.1 200.0,208.3 200.2,208.7 200.3,209.0 200.2,209.3 200.0,209.7 199.8,210.0 199.5,210.1 199.2,210.2 198.8,210.4 198.2,210.5 197.8,210.5 197.2,210.5 196.8,210.4 196.4,210.2 196.0,210.0 195.8,209.8 195.5,209.6 195.4,209.2 195.4,208.8 195.5,208.4 195.8,208.2 196.0,208.0 196.5,207.8" fill="none" stroke="#222" stroke-width="0.45" clip-path="url(#cp2)"/>
<path d="M237.0,197.8 237.2,197.7 237.8,197.7 238.2,197.7 238.8,197.7 239.2,197.7 239.8,197.7 240.0,197.8 240.5,197.8 241.0,197.9 241.5,198.0 241.8,198.1 242.2,198.2 242.5,198.3 243.0,198.5 243.3,198.6 243.6,198.8 244.0,199.0 244.2,199.2 244.5,199.4 244.8,199.6 245.0,199.9 245.2,200.2 245.4,200.5 245.6,200.8 245.8,201.1 245.9,201.5 246.0,201.8 246.1,202.2 246.2,202.8 246.3,203.0 246.3,203.5 246.3,204.0 246.3,204.5 246.3,205.0 246.2,205.2 246.1,205.8 246.0,206.2 246.0,206.5 245.8,207.0 245.8,207.3 245.6,207.8 245.5,208.0 245.2,208.4 245.1,208.8 244.9,209.0 244.8,209.3 244.5,209.7 244.3,210.0 244.1,210.2 243.9,210.5 243.7,210.8 243.4,211.0 243.2,211.2 242.9,211.5 242.6,211.8 242.3,212.0 242.0,212.2 241.8,212.4 241.5,212.6 241.2,212.8 240.9,213.0 240.5,213.2 240.2,213.3 239.9,213.5 239.5,213.7 239.2,213.8 238.8,214.0 238.5,214.1 238.1,214.2 237.8,214.4 237.2,214.5 237.0,214.6 236.5,214.7 236.1,214.8 235.8,214.8 235.2,214.9 234.8,214.9 234.2,215.0 234.0,215.0 233.5,215.0 233.0,215.0 232.5,215.0 232.2,215.0 231.8,214.9 231.2,214.9 230.8,214.8 230.4,214.8 230.0,214.7 229.5,214.5 229.2,214.5 228.8,214.3 228.5,214.2 228.0,214.1 227.8,214.0 227.3,213.8 227.0,213.6 226.8,213.5 226.3,213.2 226.0,213.0 225.8,212.9 225.5,212.7 225.2,212.5 225.0,212.2 224.7,212.0 224.4,211.8 224.2,211.5 224.0,211.2 223.8,210.9 223.5,210.6 223.3,210.2 223.2,210.0 223.0,209.5 222.9,209.2 222.8,208.8 222.7,208.5 222.7,208.0 222.7,207.5 222.7,207.0 222.8,206.8 222.9,206.2 223.0,205.9 223.2,205.5 223.3,205.2 223.5,204.8 223.7,204.5 223.8,204.2 224.0,204.0 224.2,203.6 224.5,203.3 224.8,203.1 225.0,202.8 225.2,202.5 225.5,202.3 225.8,202.1 226.0,201.9 226.2,201.7 226.5,201.5 226.8,201.2 227.2,201.0 227.5,200.8 227.8,200.6 228.0,200.5 228.4,200.2 228.8,200.1 229.0,199.9 229.4,199.8 229.8,199.6 230.0,199.5 230.5,199.3 230.8,199.2 231.2,199.0 231.5,198.9 231.9,198.8 232.2,198.6 232.7,198.5 233.0,198.4 233.5,198.3 233.8,198.2 234.2,198.1 234.8,198.0 235.0,198.0 235.5,197.9 236.0,197.8 236.5,197.8 237.0,197.8 M235.8,198.5 236.2,198.5 236.8,198.4 237.2,198.4 237.8,198.4 238.2,198.4 238.8,198.4 239.2,198.4 239.8,198.5 240.0,198.5 240.5,198.6 241.0,198.7 241.2,198.8 241.8,199.0 242.0,199.1 242.4,199.2 242.8,199.4 243.0,199.6 243.3,199.8 243.6,200.0 243.9,200.2 244.1,200.5 244.3,200.8 244.5,201.0 244.8,201.4 244.9,201.8 245.0,202.0 245.2,202.5 245.2,202.8 245.3,203.2 245.4,203.8 245.4,204.2 245.4,204.7 245.4,205.2 245.3,205.8 245.2,206.2 245.2,206.5 245.0,207.0 244.9,207.2 244.8,207.8 244.6,208.0 244.5,208.3 244.3,208.8 244.1,209.0 244.0,209.2 243.8,209.6 243.5,209.9 243.2,210.2 243.0,210.5 242.8,210.8 242.5,211.0 242.2,211.2 242.0,211.4 241.8,211.7 241.5,211.8 241.2,212.0 240.9,212.2 240.5,212.5 240.2,212.7 240.0,212.8 239.6,213.0 239.2,213.2 239.0,213.3 238.5,213.5 238.2,213.6 237.8,213.8 237.5,213.8 237.0,214.0 236.8,214.0 236.2,214.1 235.8,214.2 235.5,214.3 235.0,214.3 234.5,214.4 234.0,214.4 233.5,214.4 233.0,214.4 232.5,214.4 232.0,214.4 231.5,214.3 231.0,214.3 230.8,214.2 230.2,214.1 229.8,214.0 229.5,213.9 229.0,213.8 228.8,213.7 228.3,213.5 228.0,213.4 227.8,213.2 227.3,213.0 227.0,212.8 226.8,212.7 226.5,212.5 226.1,212.2 225.8,212.0 225.5,211.8 225.3,211.5 225.0,211.2 224.8,211.0 224.6,210.8 224.4,210.5 224.2,210.2 224.0,209.8 223.9,209.5 223.8,209.0 223.7,208.8 223.6,208.2 223.6,207.8 223.6,207.2 223.6,206.8 223.8,206.3 223.8,206.0 224.0,205.6 224.1,205.2 224.3,205.0 224.5,204.6 224.7,204.2 224.9,204.0 225.1,203.8 225.3,203.5 225.5,203.2 225.8,203.0 226.0,202.7 226.3,202.5 226.5,202.2 226.9,202.0 227.2,201.8 227.5,201.5 227.8,201.3 228.0,201.2 228.3,201.0 228.7,200.8 229.0,200.6 229.2,200.5 229.7,200.2 230.0,200.1 230.2,200.0 230.8,199.8 231.0,199.7 231.5,199.5 231.8,199.4 232.2,199.3 232.5,199.2 233.0,199.0 233.2,199.0 233.8,198.9 234.2,198.8 234.5,198.7 235.0,198.6 235.5,198.5 235.8,198.5 M234.8,199.2 235.2,199.2 235.8,199.1 236.2,199.1 236.7,199.1 237.2,199.0 237.8,199.0 238.3,199.1 238.8,199.1 239.2,199.2 239.7,199.2 240.0,199.3 240.5,199.4 240.8,199.5 241.2,199.7 241.5,199.8 241.9,200.0 242.2,200.2 242.5,200.4 242.8,200.6 243.0,200.8 243.2,201.0 243.5,201.3 243.8,201.7 243.9,202.0 244.1,202.2 244.2,202.7 244.3,203.0 244.5,203.5 244.5,203.8 244.6,204.2 244.6,204.8 244.6,205.2 244.5,205.8 244.5,206.0 244.4,206.5 244.2,207.0 244.2,207.2 244.0,207.7 243.9,208.0 243.7,208.2 243.5,208.7 243.3,209.0 243.1,209.2 243.0,209.5 242.8,209.8 242.5,210.1 242.2,210.3 242.0,210.6 241.8,210.8 241.5,211.0 241.2,211.3 240.9,211.5 240.6,211.8 240.2,212.0 240.0,212.1 239.8,212.3 239.3,212.5 239.0,212.6 238.8,212.8 238.2,213.0 238.0,213.1 237.5,213.2 237.2,213.3 236.8,213.5 236.5,213.5 236.0,213.6 235.5,213.7 235.2,213.8 234.8,213.8 234.2,213.8 233.8,213.9 233.2,213.9 232.8,213.9 232.2,213.8 231.8,213.8 231.5,213.7 231.0,213.7 230.5,213.5 230.2,213.5 229.8,213.3 229.4,213.2 229.0,213.1 228.8,213.0 228.2,212.8 228.0,212.6 227.7,212.5 227.3,212.2 227.0,212.0 226.8,211.9 226.5,211.7 226.2,211.4 226.0,211.2 225.8,210.9 225.5,210.6 225.2,210.3 225.1,210.0 224.9,209.8 224.8,209.3 224.6,209.0 224.5,208.5 224.5,208.2 224.4,207.8 224.4,207.2 224.5,206.8 224.5,206.5 224.7,206.0 224.8,205.8 225.0,205.2 225.1,205.0 225.3,204.8 225.5,204.4 225.7,204.0 226.0,203.8 226.2,203.5 226.4,203.2 226.7,203.0 226.9,202.8 227.2,202.5 227.5,202.3 227.7,202.1 228.0,201.9 228.2,201.7 228.6,201.5 229.0,201.3 229.2,201.1 229.5,201.0 230.0,200.8 230.2,200.6 230.5,200.5 231.0,200.3 231.2,200.2 231.8,200.0 232.0,199.9 232.5,199.8 232.8,199.7 233.2,199.6 233.5,199.5 234.0,199.4 234.5,199.3 234.8,199.2 M235.6,199.8 236.0,199.7 236.5,199.7 237.0,199.7 237.5,199.7 238.0,199.7 238.2,199.8 238.8,199.8 239.2,199.9 239.6,200.0 240.0,200.1 240.4,200.2 240.8,200.4 241.0,200.5 241.4,200.8 241.8,201.0 242.0,201.1 242.2,201.4 242.5,201.6 242.8,201.9 243.0,202.2 243.1,202.5 243.3,202.8 243.5,203.2 243.5,203.5 243.7,204.0 243.7,204.5 243.8,204.8 243.8,205.2 243.7,205.5 243.7,206.0 243.6,206.5 243.5,206.8 243.4,207.2 243.2,207.6 243.1,208.0 242.9,208.2 242.8,208.6 242.5,209.0 242.3,209.2 242.1,209.5 241.9,209.8 241.7,210.0 241.4,210.2 241.2,210.5 240.9,210.8 240.6,211.0 240.2,211.2 240.0,211.4 239.8,211.6 239.4,211.8 239.0,212.0 238.8,212.1 238.5,212.2 238.0,212.4 237.8,212.5 237.2,212.7 237.0,212.8 236.5,212.9 236.2,213.0 235.8,213.1 235.2,213.2 234.8,213.2 234.5,213.3 234.0,213.3 233.5,213.3 233.0,213.3 232.5,213.3 232.2,213.2 231.8,213.2 231.2,213.1 230.8,213.0 230.5,212.9 230.0,212.8 229.7,212.7 229.2,212.5 229.0,212.4 228.7,212.2 228.2,212.0 228.0,211.9 227.8,211.7 227.4,211.5 227.1,211.2 226.9,211.0 226.6,210.8 226.4,210.5 226.2,210.2 226.0,210.0 225.8,209.6 225.6,209.2 225.5,209.0 225.4,208.5 225.3,208.0 225.2,207.8 225.2,207.3 225.3,207.0 225.4,206.5 225.5,206.0 225.6,205.8 225.8,205.4 226.0,205.0 226.1,204.8 226.3,204.5 226.5,204.2 226.8,203.9 227.0,203.6 227.2,203.4 227.5,203.1 227.8,202.9 228.0,202.7 228.2,202.5 228.6,202.2 229.0,202.0 229.2,201.8 229.5,201.7 229.8,201.5 230.2,201.3 230.5,201.2 230.8,201.0 231.2,200.8 231.5,200.7 232.0,200.5 232.2,200.5 232.8,200.3 233.0,200.2 233.5,200.1 234.0,200.0 234.2,199.9 234.8,199.9 235.2,199.8 235.6,199.8 M234.5,200.5 235.0,200.4 235.5,200.4 236.0,200.3 236.5,200.3 237.0,200.3 237.5,200.4 238.0,200.4 238.5,200.5 238.8,200.6 239.2,200.7 239.5,200.8 240.0,200.9 240.2,201.1 240.6,201.2 241.0,201.5 241.2,201.7 241.5,201.9 241.8,202.2 242.0,202.4 242.2,202.8 242.4,203.0 242.5,203.3 242.7,203.8 242.8,204.0 242.9,204.5 242.9,205.0 242.9,205.5 242.9,206.0 242.8,206.5 242.7,206.8 242.6,207.2 242.5,207.5 242.3,208.0 242.1,208.2 242.0,208.5 241.8,208.8 241.5,209.2 241.3,209.5 241.0,209.8 240.8,210.0 240.5,210.2 240.2,210.5 240.0,210.7 239.8,210.8 239.5,211.0 239.1,211.2 238.8,211.5 238.5,211.6 238.2,211.8 237.8,211.9 237.5,212.0 237.0,212.2 236.8,212.3 236.2,212.4 235.8,212.5 235.5,212.6 235.0,212.6 234.5,212.7 234.0,212.7 233.5,212.7 233.0,212.7 232.5,212.7 232.0,212.6 231.5,212.5 231.2,212.5 230.8,212.4 230.4,212.2 230.0,212.1 229.7,212.0 229.2,211.8 229.0,211.7 228.7,211.5 228.3,211.2 228.0,211.0 227.8,210.8 227.5,210.6 227.2,210.3 227.0,210.0 226.8,209.8 226.6,209.5 226.5,209.2 226.3,208.8 226.2,208.5 226.1,208.0 226.1,207.5 226.1,207.0 226.2,206.5 226.3,206.2 226.4,205.8 226.5,205.5 226.8,205.1 227.0,204.8 227.2,204.5 227.3,204.2 227.6,204.0 227.8,203.7 228.0,203.5 228.3,203.2 228.6,203.0 229.0,202.8 229.2,202.5 229.5,202.4 229.8,202.2 230.1,202.0 230.5,201.8 230.8,201.7 231.1,201.5 231.5,201.4 231.8,201.3 232.2,201.1 232.5,201.0 233.0,200.8 233.3,200.8 233.8,200.7 234.2,200.6 234.5,200.5 M235.7,201.0 236.0,201.0 236.5,201.0 236.8,201.0 237.2,201.0 237.8,201.1 238.2,201.2 238.5,201.3 239.0,201.4 239.2,201.5 239.8,201.7 240.0,201.9 240.2,202.0 240.5,202.2 240.8,202.5 241.1,202.8 241.3,203.0 241.5,203.3 241.7,203.8 241.8,204.0 242.0,204.5 242.0,204.8 242.1,205.2 242.1,205.8 242.0,206.2 242.0,206.5 241.8,207.0 241.8,207.3 241.5,207.8 241.4,208.0 241.2,208.3 241.0,208.7 240.8,209.0 240.6,209.2 240.3,209.5 240.1,209.8 239.8,210.0 239.5,210.2 239.2,210.4 239.0,210.6 238.7,210.8 238.3,211.0 238.0,211.2 237.8,211.3 237.2,211.5 237.0,211.6 236.5,211.7 236.2,211.8 235.8,211.9 235.3,212.0 235.0,212.1 234.5,212.1 234.0,212.1 233.5,212.1 233.0,212.1 232.5,212.1 232.0,212.0 231.8,212.0 231.2,211.8 230.9,211.8 230.5,211.6 230.2,211.5 229.8,211.3 229.5,211.2 229.2,211.0 228.8,210.8 228.5,210.5 228.2,210.3 228.0,210.0 227.8,209.8 227.6,209.5 227.4,209.2 227.2,208.9 227.1,208.5 227.0,208.1 226.9,207.8 226.9,207.2 227.0,206.8 227.0,206.5 227.2,206.0 227.3,205.8 227.5,205.3 227.7,205.0 227.9,204.8 228.1,204.5 228.3,204.2 228.5,204.0 228.8,203.8 229.0,203.5 229.4,203.2 229.7,203.0 230.0,202.8 230.2,202.6 230.5,202.5 231.0,202.2 231.2,202.1 231.5,202.0 232.0,201.8 232.2,201.7 232.8,201.5 233.0,201.5 233.5,201.3 233.8,201.2 234.2,201.2 234.8,201.1 235.2,201.0 235.7,201.0 M234.7,201.8 235.0,201.7 235.5,201.7 236.0,201.7 236.5,201.7 237.0,201.7 237.2,201.8 237.8,201.9 238.2,202.0 238.5,202.1 238.9,202.2 239.2,202.4 239.5,202.6 239.8,202.8 240.0,203.0 240.3,203.2 240.5,203.5 240.8,203.9 240.9,204.2 241.0,204.5 241.1,205.0 241.2,205.5 241.2,206.0 241.1,206.5 241.0,207.0 240.9,207.2 240.8,207.6 240.5,208.0 240.4,208.2 240.2,208.5 240.0,208.8 239.8,209.1 239.5,209.3 239.2,209.6 239.0,209.8 238.7,210.0 238.3,210.2 238.0,210.4 237.8,210.6 237.4,210.8 237.0,210.9 236.7,211.0 236.2,211.2 235.9,211.2 235.5,211.3 235.0,211.4 234.5,211.5 234.2,211.5 233.8,211.5 233.2,211.5 233.0,211.5 232.5,211.4 232.0,211.4 231.6,211.2 231.2,211.2 230.8,211.0 230.5,210.9 230.2,210.8 229.8,210.5 229.5,210.3 229.2,210.1 229.0,209.9 228.8,209.6 228.5,209.3 228.3,209.0 228.1,208.8 228.0,208.4 227.9,208.0 227.8,207.5 227.8,207.0 227.9,206.5 228.0,206.2 228.2,205.8 228.3,205.5 228.5,205.2 228.8,204.8 229.0,204.5 229.3,204.3 229.5,204.0 229.8,203.8 230.0,203.6 230.2,203.4 230.5,203.2 230.9,203.0 231.2,202.8 231.5,202.7 231.9,202.5 232.2,202.4 232.6,202.2 233.0,202.1 233.4,202.0 233.8,201.9 234.2,201.8 234.7,201.8 M234.3,202.5 234.8,202.4 235.2,202.4 235.8,202.4 236.2,202.4 236.8,202.5 237.0,202.5 237.5,202.6 237.9,202.8 238.2,202.9 238.5,203.0 238.9,203.2 239.2,203.5 239.4,203.8 239.6,204.0 239.8,204.2 240.0,204.6 240.1,205.0 240.2,205.5 240.3,205.8 240.2,206.0 240.2,206.5 240.1,207.0 240.0,207.2 239.8,207.7 239.6,208.0 239.4,208.2 239.2,208.5 239.0,208.8 238.8,209.0 238.5,209.2 238.2,209.5 237.8,209.8 237.5,209.9 237.2,210.0 236.8,210.2 236.5,210.4 236.1,210.5 235.8,210.6 235.2,210.7 235.0,210.8 234.5,210.8 234.0,210.9 233.5,210.9 233.0,210.8 232.5,210.8 232.2,210.7 231.8,210.6 231.5,210.5 231.0,210.3 230.8,210.2 230.5,210.0 230.1,209.8 229.8,209.5 229.6,209.2 229.4,209.0 229.2,208.8 229.0,208.4 228.9,208.0 228.8,207.5 228.8,207.0 228.8,206.5 229.0,206.0 229.1,205.8 229.3,205.5 229.5,205.2 229.8,204.9 230.0,204.6 230.2,204.3 230.5,204.1 230.8,203.9 231.0,203.8 231.4,203.5 231.8,203.3 232.0,203.2 232.5,203.0 232.8,202.9 233.2,202.8 233.5,202.7 234.0,202.6 234.3,202.5 M234.4,203.2 234.8,203.2 235.2,203.2 235.8,203.2 236.2,203.2 236.5,203.3 237.0,203.4 237.3,203.5 237.8,203.7 238.0,203.9 238.2,204.1 238.5,204.3 238.8,204.6 239.0,205.0 239.1,205.2 239.2,205.8 239.2,206.2 239.1,206.8 239.0,207.1 238.8,207.5 238.7,207.8 238.5,208.0 238.2,208.3 238.0,208.6 237.8,208.8 237.5,209.0 237.1,209.2 236.8,209.4 236.5,209.6 236.0,209.8 235.8,209.8 235.2,210.0 235.0,210.0 234.5,210.1 234.0,210.1 233.5,210.1 233.0,210.0 232.8,210.0 232.2,209.9 231.9,209.8 231.5,209.6 231.2,209.4 231.0,209.2 230.7,209.0 230.4,208.8 230.2,208.5 230.0,208.1 229.9,207.8 229.8,207.3 229.8,206.8 230.0,206.2 230.1,206.0 230.2,205.7 230.5,205.3 230.8,205.0 231.0,204.8 231.2,204.6 231.5,204.4 231.8,204.2 232.1,204.0 232.5,203.8 232.8,203.7 233.2,203.5 233.5,203.5 234.0,203.3 234.4,203.2" fill="none" stroke="#3c3c3c" stroke-width="0.36" clip-path="url(#cp2)"/>
<path d="M243.5,202 C241.9,205 241.9,209 243.5,212.5 Z" fill="#222"/>
<line x1="159.5" y1="168.0" x2="243.5" y2="168.0" stroke="#8a8a8a" stroke-width="0.7" />
<line x1="243.5" y1="168.0" x2="243.5" y2="247.4" stroke="#8a8a8a" stroke-width="0.7" />
<line x1="159.5" y1="168.0" x2="159.5" y2="247.4" stroke="#666" stroke-width="0.8" />
<line x1="159.5" y1="247.4" x2="243.5" y2="247.4" stroke="#666" stroke-width="0.8" />
<line x1="181.2" y1="168.0" x2="181.2" y2="247.4" stroke="#4a4a4a" stroke-width="1.0" />
<line x1="159.5" y1="227.4" x2="243.5" y2="227.4" stroke="#4a4a4a" stroke-width="1.0" />
<rect x="180.2" y="226.4" width="2" height="2" fill="#000" stroke="none" stroke-width="0" />
<rect x="180.39999999999998" y="167.7" width="1.6" height="1.4" fill="#111" stroke="none" stroke-width="0" />
<rect x="180.39999999999998" y="246.4" width="1.6" height="1.4" fill="#111" stroke="none" stroke-width="0" />
<rect x="159.2" y="226.6" width="1.4" height="1.6" fill="#111" stroke="none" stroke-width="0" />
<rect x="242.5" y="226.6" width="1.4" height="1.6" fill="#111" stroke="none" stroke-width="0" />
<text x="178.0" y="254.3" font-size="4.0" fill="#333" stroke="#333" stroke-width="0.1">10<tspan dy="-1.8" font-size="3.0">0</tspan></text>
<text x="198.76666666666668" y="254.3" font-size="4.0" fill="#333" stroke="#333" stroke-width="0.1">10<tspan dy="-1.8" font-size="3.0">1</tspan></text>
<text x="219.53333333333333" y="254.3" font-size="4.0" fill="#333" stroke="#333" stroke-width="0.1">10<tspan dy="-1.8" font-size="3.0">2</tspan></text>
<text x="239.10000000000002" y="254.3" font-size="4.0" fill="#333" stroke="#333" stroke-width="0.1">10<tspan dy="-1.8" font-size="3.0">3</tspan></text>
<text x="150.2" y="228.1" font-size="4.0" fill="#333" stroke="#333" stroke-width="0.1">10<tspan dy="-1.8" font-size="3.0">0</tspan></text>
<text x="150.2" y="208.29999999999998" font-size="4.0" fill="#333" stroke="#333" stroke-width="0.1">10<tspan dy="-1.8" font-size="3.0">1</tspan></text>
<line x1="158.3" y1="207.6" x2="159.5" y2="207.6" stroke="#666" stroke-width="0.5" />
<text x="150.2" y="188.5" font-size="4.0" fill="#333" stroke="#333" stroke-width="0.1">10<tspan dy="-1.8" font-size="3.0">2</tspan></text>
<line x1="158.3" y1="187.8" x2="159.5" y2="187.8" stroke="#666" stroke-width="0.5" />
<text x="150.2" y="168.1" font-size="4.0" fill="#333" stroke="#333" stroke-width="0.1">10<tspan dy="-1.8" font-size="3.0">3</tspan></text>
<line x1="158.3" y1="168.0" x2="159.5" y2="168.0" stroke="#666" stroke-width="0.5" />
<line x1="201.96666666666667" y1="247.4" x2="201.96666666666667" y2="248.6" stroke="#666" stroke-width="0.5" />
<line x1="222.73333333333332" y1="247.4" x2="222.73333333333332" y2="248.6" stroke="#666" stroke-width="0.5" />
<line x1="243.5" y1="247.4" x2="243.5" y2="248.6" stroke="#666" stroke-width="0.5" />
<text x="161.1" y="171.6" font-size="3.9" fill="#111" stroke="#111" stroke-width="0.12">0.53</text>
<text x="242.7" y="171.6" font-size="3.9" fill="#111" stroke="#111" stroke-width="0.12" text-anchor="end">99.33</text>
<text x="161.1" y="246.4" font-size="3.9" fill="#111" stroke="#111" stroke-width="0.12">0.00</text>
<text x="242.7" y="246.4" font-size="3.9" fill="#111" stroke="#111" stroke-width="0.12" text-anchor="end">0.13</text>
<polyline points="146.3,168.6 146.3,258.6 242.7,258.6" fill="none" stroke="#222" stroke-width="0.8"/>
<polyline points="143.5,172.4 146.3,168.3 149.10000000000002,172.4" fill="none" stroke="#222" stroke-width="0.8"/>
<polyline points="238.9,255.8 243.1,258.6 238.9,261.40000000000003" fill="none" stroke="#222" stroke-width="0.8"/>
<text x="150" y="155.4" font-size="7.0" textLength="90" lengthAdjust="spacingAndGlyphs" fill="#1c1c1c" stroke="#1c1c1c" stroke-width="0.22" >cCD16ζ-Jurkat/MA/CD8α/luc</text>
<text x="139.3" y="209.6" font-size="7.0" textLength="12" lengthAdjust="spacingAndGlyphs" transform="rotate(-90 139.3 209.6)" fill="#1c1c1c" stroke="#1c1c1c" stroke-width="0.22" >CD8</text>
<text x="213.5" y="269.3" font-size="7.0" textLength="16.2" lengthAdjust="spacingAndGlyphs" fill="#1c1c1c" stroke="#1c1c1c" stroke-width="0.22" >CD16</text>
<clipPath id="cph"><rect x="303.2" y="24.3" width="84.40000000000003" height="83.7"/></clipPath>
<polygon points="304.3,108.0 308.0,106.3 311.0,104.2 314.0,101.3 316.0,98.0 317.5,95.0 319.4,88.7 320.6,82.5 321.9,76.2 322.6,69.5 323.5,57.8 324.4,51.1 325.0,44.4 325.6,41.0 326.5,36.9 327.5,33.9 328.3,34.3 329.2,36.4 330.0,38.5 330.6,44.4 331.5,51.1 332.2,56.9 332.7,64.5 333.0,70.3 334.4,76.2 335.6,82.5 336.9,88.7 338.1,95.0 339.4,98.8 340.6,101.3 342.0,104.2 343.1,106.3 344.6,108.0" fill="#7c7c7c" stroke="#222" stroke-width="0.6"/>
<polyline points="330.0,38.5 330.6,44.4 331.5,51.1 332.2,56.9 332.7,64.5 333.0,70.3 334.4,76.2 335.6,82.5 336.9,88.7" fill="none" stroke="#111" stroke-width="1.5" stroke-linejoin="round"/>
<polyline points="320.6,82.5 321.9,76.2 322.6,69.5 323.5,57.8 324.4,51.1 325.0,44.4 325.6,41.0 326.5,36.9" fill="none" stroke="#111" stroke-width="1.0" stroke-linejoin="round"/>
<polyline points="304.3,108.0 309.0,106.3 313.0,103.0 316.0,98.8 318.6,91.3 320.5,82.9 322.2,72.8 323.4,61.1 324.6,49.4 326.0,41.0 327.4,36.9 328.6,37.7 330.0,40.2 331.2,47.7 332.2,56.1 333.2,67.8 334.6,76.2 336.2,83.7 338.0,90.4 339.8,94.2 341.2,95.9 343.0,98.0 345.0,100.0 347.0,102.1 348.8,103.8 350.5,105.5 352.0,106.7 353.5,108.0" fill="none" stroke="#111" stroke-width="1.2" stroke-dasharray="2.4 1.0"/>
<polyline points="304.3,108.0 309.0,105.9 312.5,103.0 315.5,98.8 318.0,92.1 320.0,83.7 322.0,73.7 323.2,62.0 324.2,51.1 325.4,41.9 326.8,35.2 328.2,35.2 329.4,36.9 330.5,42.7 331.6,51.9 332.6,62.0 333.4,71.2 334.8,77.9 336.2,84.6 338.0,92.1 340.0,98.0 342.0,102.1 344.0,105.1 346.0,107.2 347.5,108.0" fill="none" stroke="#111" stroke-width="1.0" stroke-dasharray="0.8 0.7"/>
<polyline points="304.3,108.0 307.5,105.0 309.8,102.6 311.9,100.0 313.8,95.0 315.0,89.2 318.3,88.7 319.4,82.9 320.0,76.2 320.6,70.3 321.2,59.5 322.5,53.3 323.5,47.0 324.6,40.8 325.9,34.5 326.5,32.8 327.2,36.9 328.0,35.2 328.8,41.0 329.8,39.4 330.8,47.7 331.8,54.4 333.0,63.6 334.2,70.3 335.2,74.5 336.0,72.8 337.0,70.3 338.5,66.2 339.8,59.5 340.6,58.6 341.0,55.3 341.9,48.6 342.4,47.7 343.1,41.0 344.2,39.4 345.0,36.9 346.0,36.0 346.9,34.3 347.9,31.4 348.8,35.2 349.6,41.0 350.6,46.9 351.9,59.5 353.1,70.3 353.9,76.2 354.6,82.5 355.9,95.0 356.9,101.3 358.0,104.7 359.4,106.7 361.0,107.7 363.0,108.0" fill="none" stroke="#fff" stroke-width="1.6" stroke-opacity="0.7"/>
<polyline points="304.3,108.0 307.5,105.0 309.8,102.6 311.9,100.0 313.8,95.0 315.0,89.2 318.3,88.7 319.4,82.9 320.0,76.2 320.6,70.3 321.2,59.5 322.5,53.3 323.5,47.0 324.6,40.8 325.9,34.5 326.5,32.8 327.2,36.9 328.0,35.2 328.8,41.0 329.8,39.4 330.8,47.7 331.8,54.4 333.0,63.6 334.2,70.3 335.2,74.5 336.0,72.8 337.0,70.3 338.5,66.2 339.8,59.5 340.6,58.6 341.0,55.3 341.9,48.6 342.4,47.7 343.1,41.0 344.2,39.4 345.0,36.9 346.0,36.0 346.9,34.3 347.9,31.4 348.8,35.2 349.6,41.0 350.6,46.9 351.9,59.5 353.1,70.3 353.9,76.2 354.6,82.5 355.9,95.0 356.9,101.3 358.0,104.7 359.4,106.7 361.0,107.7 363.0,108.0" fill="none" stroke="#2a2a2a" stroke-width="0.8"/>
<path d="M302.8,47.736 L303.9,61.965 L304.7,102.978 L306.7,106.9956 L312.2,108.0 L302.8,108.0 Z" fill="#111"/>
<line x1="303.2" y1="24.3" x2="387.6" y2="24.3" stroke="#808080" stroke-width="0.8" />
<line x1="387.6" y1="24.3" x2="387.6" y2="108.0" stroke="#8a8a8a" stroke-width="0.7" />
<line x1="303.2" y1="24.3" x2="303.2" y2="108.0" stroke="#555" stroke-width="0.9" />
<line x1="303.2" y1="108.0" x2="387.6" y2="108.0" stroke="#222" stroke-width="0.9" />
<line x1="301.59999999999997" y1="108.0" x2="303.2" y2="108.0" stroke="#333" stroke-width="0.6" />
<text x="299.5" y="109.9" font-size="5.3" text-anchor="end" fill="#222" stroke="#222" stroke-width="0.22" >0</text>
<line x1="301.59999999999997" y1="91.26" x2="303.2" y2="91.26" stroke="#333" stroke-width="0.6" />
<text x="299.5" y="93.2" font-size="5.3" text-anchor="end" fill="#222" stroke="#222" stroke-width="0.22" >20</text>
<line x1="301.59999999999997" y1="74.52000000000001" x2="303.2" y2="74.52000000000001" stroke="#333" stroke-width="0.6" />
<text x="299.5" y="76.4" font-size="5.3" text-anchor="end" fill="#222" stroke="#222" stroke-width="0.22" >40</text>
<line x1="301.59999999999997" y1="57.78" x2="303.2" y2="57.78" stroke="#333" stroke-width="0.6" />
<text x="299.5" y="59.7" font-size="5.3" text-anchor="end" fill="#222" stroke="#222" stroke-width="0.22" >60</text>
<line x1="301.59999999999997" y1="41.040000000000006" x2="303.2" y2="41.040000000000006" stroke="#333" stroke-width="0.6" />
<text x="299.5" y="42.9" font-size="5.3" text-anchor="end" fill="#222" stroke="#222" stroke-width="0.22" >80</text>
<line x1="301.59999999999997" y1="24.299999999999997" x2="303.2" y2="24.299999999999997" stroke="#333" stroke-width="0.6" />
<text x="299.5" y="26.2" font-size="5.3" text-anchor="end" fill="#222" stroke="#222" stroke-width="0.22" >100</text>
<line x1="302.3" y1="99.63" x2="303.2" y2="99.63" stroke="#555" stroke-width="0.4" />
<line x1="302.3" y1="82.89" x2="303.2" y2="82.89" stroke="#555" stroke-width="0.4" />
<line x1="302.3" y1="66.15" x2="303.2" y2="66.15" stroke="#555" stroke-width="0.4" />
<line x1="302.3" y1="49.41" x2="303.2" y2="49.41" stroke="#555" stroke-width="0.4" />
<line x1="302.3" y1="32.67" x2="303.2" y2="32.67" stroke="#555" stroke-width="0.4" />
<line x1="325.6" y1="108.0" x2="325.6" y2="109.4" stroke="#333" stroke-width="0.6" />
<text x="321.8" y="117.4" font-size="5" fill="#222">10<tspan dy="-2.2" font-size="3.4">0</tspan></text>
<line x1="346.6" y1="108.0" x2="346.6" y2="109.4" stroke="#333" stroke-width="0.6" />
<text x="342.8" y="117.4" font-size="5" fill="#222">10<tspan dy="-2.2" font-size="3.4">1</tspan></text>
<line x1="367.0" y1="108.0" x2="367.0" y2="109.4" stroke="#333" stroke-width="0.6" />
<text x="363.2" y="117.4" font-size="5" fill="#222">10<tspan dy="-2.2" font-size="3.4">2</tspan></text>
<line x1="387.0" y1="108.0" x2="387.0" y2="109.4" stroke="#333" stroke-width="0.6" />
<text x="383.2" y="117.4" font-size="5" fill="#222">10<tspan dy="-2.2" font-size="3.4">3</tspan></text>
<text x="285.6" y="97.6" font-size="6.7" textLength="58" lengthAdjust="spacingAndGlyphs" transform="rotate(-90 285.6 97.6)" fill="#1c1c1c" stroke="#1c1c1c" stroke-width="0.22" >Relative ell number</text>
<text x="313.9" y="128.2" font-size="6.5" textLength="66.6" lengthAdjust="spacingAndGlyphs" fill="#1c1c1c" stroke="#1c1c1c" stroke-width="0.22" >Phosphorylated CD3ζ</text>
<text x="390.8" y="41.1" font-size="7.0" textLength="103.8" lengthAdjust="spacingAndGlyphs" fill="#1c1c1c" stroke="#1c1c1c" stroke-width="0.22" >Solid line: Raji+1 μg/mL rituximab</text>
<text x="390.8" y="50.1" font-size="7.0" textLength="68.3" lengthAdjust="spacingAndGlyphs" fill="#1c1c1c" stroke="#1c1c1c" stroke-width="0.22" >Dotted line: Raji alone</text>
<text x="390.8" y="59.1" font-size="7.0" textLength="117" lengthAdjust="spacingAndGlyphs" fill="#1c1c1c" stroke="#1c1c1c" stroke-width="0.22" >Dashed line: K562+1 μg/mL rituximab</text>
<text x="390.8" y="68.2" font-size="7.0" textLength="102.5" lengthAdjust="spacingAndGlyphs" fill="#1c1c1c" stroke="#1c1c1c" stroke-width="0.22" >Shaded: 1 μg/mL rituximab alone</text>
<line x1="299.6" y1="164.2" x2="299.6" y2="282.6" stroke="#8c8c8c" stroke-width="0.8" />
<line x1="297.0" y1="282.6" x2="472.8" y2="282.6" stroke="#8c8c8c" stroke-width="0.8" />
<text x="292.6" y="285.0" font-size="7.0" textLength="3.5" lengthAdjust="spacingAndGlyphs" text-anchor="end" fill="#1c1c1c" stroke="#1c1c1c" stroke-width="0.22" >0</text>
<line x1="297.0" y1="258.92" x2="299.6" y2="258.92" stroke="#8c8c8c" stroke-width="0.8" />
<text x="292.6" y="261.3" font-size="7.0" textLength="11.4" lengthAdjust="spacingAndGlyphs" text-anchor="end" fill="#1c1c1c" stroke="#1c1c1c" stroke-width="0.22" >200</text>
<line x1="297.0" y1="235.24" x2="299.6" y2="235.24" stroke="#8c8c8c" stroke-width="0.8" />
<text x="292.6" y="237.6" font-size="7.0" textLength="11.4" lengthAdjust="spacingAndGlyphs" text-anchor="end" fill="#1c1c1c" stroke="#1c1c1c" stroke-width="0.22" >400</text>
<line x1="297.0" y1="211.56" x2="299.6" y2="211.56" stroke="#8c8c8c" stroke-width="0.8" />
<text x="292.6" y="214.0" font-size="7.0" textLength="11.4" lengthAdjust="spacingAndGlyphs" text-anchor="end" fill="#1c1c1c" stroke="#1c1c1c" stroke-width="0.22" >600</text>
<line x1="297.0" y1="187.88" x2="299.6" y2="187.88" stroke="#8c8c8c" stroke-width="0.8" />
<text x="292.6" y="190.3" font-size="7.0" textLength="11.4" lengthAdjust="spacingAndGlyphs" text-anchor="end" fill="#1c1c1c" stroke="#1c1c1c" stroke-width="0.22" >800</text>
<line x1="297.0" y1="164.2" x2="299.6" y2="164.2" stroke="#8c8c8c" stroke-width="0.8" />
<text x="292.6" y="166.6" font-size="7.0" textLength="17.9" lengthAdjust="spacingAndGlyphs" text-anchor="end" fill="#1c1c1c" stroke="#1c1c1c" stroke-width="0.22" >1,000</text>
<text x="277.9" y="155.8" font-size="7.0" textLength="17.2" lengthAdjust="spacingAndGlyphs" fill="#1c1c1c" stroke="#1c1c1c" stroke-width="0.22" >(μm<tspan dy="-2.4" font-size="4.2">2</tspan><tspan dy="2.4">)</tspan></text>
<text x="270.4" y="258.0" font-size="7.2" textLength="78.6" lengthAdjust="spacingAndGlyphs" transform="rotate(-90 270.4 258.0)" fill="#1c1c1c" stroke="#1c1c1c" stroke-width="0.22" >Luciferase photon counts</text>
<line x1="328.25" y1="260.93280000000004" x2="328.25" y2="261.88" stroke="#222" stroke-width="0.6" />
<line x1="326.55" y1="260.93280000000004" x2="329.95" y2="260.93280000000004" stroke="#222" stroke-width="0.6" />
<rect x="324.1" y="261.88" width="8.3" height="20.720000000000027" fill="#000" stroke="none" stroke-width="0" />
<line x1="347.45" y1="273.00960000000003" x2="347.45" y2="273.6016" stroke="#222" stroke-width="0.6" />
<line x1="345.75" y1="273.00960000000003" x2="349.15" y2="273.00960000000003" stroke="#222" stroke-width="0.6" />
<rect x="343.7" y="274.0016" width="7.500000000000001" height="8.598400000000003" fill="#fff" stroke="#111" stroke-width="0.8" />
<line x1="366.84999999999997" y1="189.8928" x2="366.84999999999997" y2="194.392" stroke="#222" stroke-width="0.6" />
<line x1="365.15" y1="189.8928" x2="368.54999999999995" y2="189.8928" stroke="#222" stroke-width="0.6" />
<rect x="362.7" y="194.392" width="8.3" height="88.20800000000003" fill="#000" stroke="none" stroke-width="0" />
<line x1="386.15" y1="222.9264" x2="386.15" y2="225.768" stroke="#222" stroke-width="0.6" />
<line x1="384.45" y1="222.9264" x2="387.84999999999997" y2="222.9264" stroke="#222" stroke-width="0.6" />
<rect x="382.3" y="226.068" width="7.700000000000001" height="56.532000000000025" fill="#7f7f7f" stroke="#4a4a4a" stroke-width="0.6" />
<line x1="405.15" y1="249.8032" x2="405.15" y2="251.22400000000002" stroke="#222" stroke-width="0.6" />
<line x1="403.45" y1="249.8032" x2="406.84999999999997" y2="249.8032" stroke="#222" stroke-width="0.6" />
<rect x="401.3" y="251.52400000000003" width="7.700000000000001" height="31.076000000000004" fill="#7f7f7f" stroke="#4a4a4a" stroke-width="0.6" />
<line x1="424.34999999999997" y1="258.44640000000004" x2="424.34999999999997" y2="259.512" stroke="#222" stroke-width="0.6" />
<line x1="422.65" y1="258.44640000000004" x2="426.04999999999995" y2="258.44640000000004" stroke="#222" stroke-width="0.6" />
<rect x="420.5" y="259.812" width="7.700000000000001" height="22.78800000000002" fill="#7f7f7f" stroke="#4a4a4a" stroke-width="0.6" />
<line x1="443.34999999999997" y1="276.7984" x2="443.34999999999997" y2="277.27200000000005" stroke="#222" stroke-width="0.6" />
<line x1="441.65" y1="276.7984" x2="445.04999999999995" y2="276.7984" stroke="#222" stroke-width="0.6" />
<rect x="439.59999999999997" y="277.672" width="7.500000000000001" height="4.927999999999974" fill="#fff" stroke="#111" stroke-width="0.8" />
<line x1="462.84999999999997" y1="273.4832" x2="462.84999999999997" y2="274.0752" stroke="#222" stroke-width="0.6" />
<line x1="461.15" y1="273.4832" x2="464.54999999999995" y2="273.4832" stroke="#222" stroke-width="0.6" />
<rect x="458.7" y="274.0752" width="8.3" height="8.524800000000027" fill="#000" stroke="none" stroke-width="0" />
<rect x="394.5" y="174.7" width="8.3" height="3.2" fill="#fff" stroke="#555" stroke-width="0.5" />
<rect x="394.4" y="187.3" width="8.5" height="3.6" fill="#000" stroke="none" stroke-width="0" />
<rect x="394.6" y="201.5" width="8.1" height="3.2" fill="#7f7f7f" stroke="#4a4a4a" stroke-width="0.5" />
<text x="405.9" y="178.7" font-size="7.0" textLength="40" lengthAdjust="spacingAndGlyphs" fill="#1c1c1c" stroke="#1c1c1c" stroke-width="0.22" >No rituximab</text>
<text x="405.9" y="191.5" font-size="7.0" textLength="57" lengthAdjust="spacingAndGlyphs" fill="#1c1c1c" stroke="#1c1c1c" stroke-width="0.22" >1 μg/mL rituximab</text>
<text x="405.9" y="205.6" font-size="7.0" textLength="74" lengthAdjust="spacingAndGlyphs" fill="#1c1c1c" stroke="#1c1c1c" stroke-width="0.22" >1 μg/mL rituximab+3G8</text>
<text x="255.4" y="292.9" font-size="7.0" textLength="31.7" lengthAdjust="spacingAndGlyphs" fill="#1c1c1c" stroke="#1c1c1c" stroke-width="0.22" >Target cell</text>
<text x="253.1" y="306.4" font-size="7.0" textLength="38.8" lengthAdjust="spacingAndGlyphs" fill="#1c1c1c" stroke="#1c1c1c" stroke-width="0.22" >3G8 (μg/mL)</text>
<line x1="249.6" y1="295.9" x2="292.3" y2="295.9" stroke="#6a6a6a" stroke-width="0.9" />
<line x1="318.8" y1="295.9" x2="336.6" y2="295.9" stroke="#6a6a6a" stroke-width="0.9" />
<line x1="341.8" y1="295.9" x2="429.0" y2="295.9" stroke="#6a6a6a" stroke-width="0.9" />
<line x1="441.2" y1="295.9" x2="467.4" y2="295.9" stroke="#6a6a6a" stroke-width="0.9" />
<text x="327.7" y="292.9" font-size="7.0" textLength="15.8" lengthAdjust="spacingAndGlyphs" text-anchor="middle" fill="#1c1c1c" stroke="#1c1c1c" stroke-width="0.22" >None</text>
<text x="382.5" y="292.9" font-size="7.0" textLength="11" lengthAdjust="spacingAndGlyphs" text-anchor="middle" fill="#1c1c1c" stroke="#1c1c1c" stroke-width="0.22" >Raji</text>
<text x="452.8" y="292.9" font-size="7.0" textLength="15.4" lengthAdjust="spacingAndGlyphs" text-anchor="middle" fill="#1c1c1c" stroke="#1c1c1c" stroke-width="0.22" >K562</text>
<text x="327.7" y="306.4" font-size="7.0" textLength="15.8" lengthAdjust="spacingAndGlyphs" text-anchor="middle" fill="#1c1c1c" stroke="#1c1c1c" stroke-width="0.22" >None</text>
<text x="352.0" y="306.4" font-size="7.0" textLength="15.8" lengthAdjust="spacingAndGlyphs" text-anchor="middle" fill="#1c1c1c" stroke="#1c1c1c" stroke-width="0.22" >None</text>
<text x="366.9" y="306.4" font-size="7.0" text-anchor="middle" fill="#1c1c1c" stroke="#1c1c1c" stroke-width="0.22" >0</text>
<text x="385.3" y="306.4" font-size="7.0" textLength="7" lengthAdjust="spacingAndGlyphs" text-anchor="middle" fill="#1c1c1c" stroke="#1c1c1c" stroke-width="0.22" >10</text>
<text x="406.0" y="306.4" font-size="7.0" textLength="7" lengthAdjust="spacingAndGlyphs" text-anchor="middle" fill="#1c1c1c" stroke="#1c1c1c" stroke-width="0.22" >25</text>
<text x="424.0" y="306.4" font-size="7.0" textLength="7" lengthAdjust="spacingAndGlyphs" text-anchor="middle" fill="#1c1c1c" stroke="#1c1c1c" stroke-width="0.22" >50</text>
<text x="453.0" y="306.4" font-size="7.0" textLength="15.8" lengthAdjust="spacingAndGlyphs" text-anchor="middle" fill="#1c1c1c" stroke="#1c1c1c" stroke-width="0.22" >None</text>
</g>
<g shape-rendering="crispEdges">
<rect x="1.5" y="1.5" width="517" height="318" fill="none" stroke="#dcdcdc" stroke-width="1"/>
<rect x="0" y="0" width="520" height="1" fill="#585858"/>
<rect x="0" y="0" width="1" height="321" fill="#585858"/>
<rect x="519" y="0" width="1" height="321" fill="#585858"/>
<rect x="0" y="320" width="520" height="1" fill="#5c5c5c"/>
</g>
</svg>
</body></html>
